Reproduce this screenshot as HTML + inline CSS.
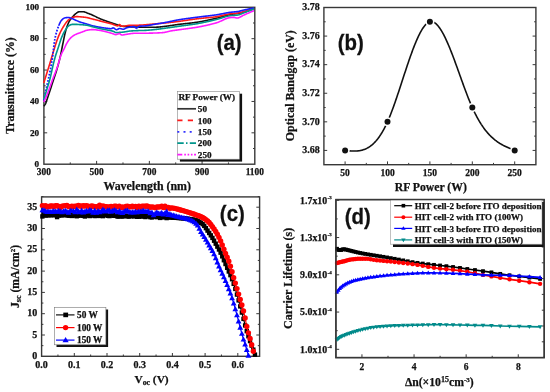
<!DOCTYPE html>
<html><head><meta charset="utf-8"><style>
html,body{margin:0;padding:0;background:#fff;overflow:hidden;}
svg{display:block;filter:blur(0.3px);}
text{fill:#111;stroke:#111;stroke-width:0.25px;}
</style></head><body>
<svg width="550" height="392" viewBox="0 0 550 392">
<rect width="550" height="392" fill="#fff"/>
<g id="pa">
<rect x="43.9" y="7.3" width="210.9" height="156.9" fill="none" stroke="#383838" stroke-width="1.4"/>
<path d="M43.9,132.82h3.3 M43.9,101.44h3.3 M43.9,70.06h3.3 M43.9,38.68h3.3" stroke="#383838" stroke-width="1.0" fill="none"/>
<path d="M43.9,148.51h1.8 M43.9,117.13h1.8 M43.9,85.75h1.8 M43.9,54.37h1.8 M43.9,22.99h1.8" stroke="#383838" stroke-width="1.0" fill="none"/>
<path d="M254.8,132.82h-3.3 M254.8,101.44h-3.3 M254.8,70.06h-3.3 M254.8,38.68h-3.3" stroke="#383838" stroke-width="1.0" fill="none"/>
<path d="M254.8,148.51h-1.8 M254.8,117.13h-1.8 M254.8,85.75h-1.8 M254.8,54.37h-1.8 M254.8,22.99h-1.8" stroke="#383838" stroke-width="1.0" fill="none"/>
<path d="M96.62,164.2v-3.3 M149.35,164.2v-3.3 M202.08,164.2v-3.3" stroke="#383838" stroke-width="1.0" fill="none"/>
<path d="M70.26,164.2v-1.8 M122.99,164.2v-1.8 M175.71,164.2v-1.8 M228.44,164.2v-1.8" stroke="#383838" stroke-width="1.0" fill="none"/>
<text x="39.2" y="167" font-size="9.2" text-anchor="end" font-family='"Liberation Serif", serif' font-weight="bold" >0</text>
<text x="39.2" y="135.62" font-size="9.2" text-anchor="end" font-family='"Liberation Serif", serif' font-weight="bold" >20</text>
<text x="39.2" y="104.24" font-size="9.2" text-anchor="end" font-family='"Liberation Serif", serif' font-weight="bold" >40</text>
<text x="39.2" y="72.86" font-size="9.2" text-anchor="end" font-family='"Liberation Serif", serif' font-weight="bold" >60</text>
<text x="39.2" y="41.48" font-size="9.2" text-anchor="end" font-family='"Liberation Serif", serif' font-weight="bold" >80</text>
<text x="39.2" y="10.1" font-size="9.2" text-anchor="end" font-family='"Liberation Serif", serif' font-weight="bold" >100</text>
<text x="43.9" y="175.4" font-size="9.4" text-anchor="middle" font-family='"Liberation Serif", serif' font-weight="bold" >300</text>
<text x="96.62" y="175.4" font-size="9.4" text-anchor="middle" font-family='"Liberation Serif", serif' font-weight="bold" >500</text>
<text x="149.35" y="175.4" font-size="9.4" text-anchor="middle" font-family='"Liberation Serif", serif' font-weight="bold" >700</text>
<text x="202.08" y="175.4" font-size="9.4" text-anchor="middle" font-family='"Liberation Serif", serif' font-weight="bold" >900</text>
<text x="254.8" y="175.4" font-size="9.4" text-anchor="middle" font-family='"Liberation Serif", serif' font-weight="bold" >1100</text>
<text x="147.2" y="189.9" font-size="11.9" text-anchor="middle" font-family='"Liberation Serif", serif' font-weight="bold" >Wavelength (nm)</text>
<text x="0" y="0" font-size="11.9" text-anchor="middle" font-family='"Liberation Serif", serif' font-weight="bold" transform="translate(13.8,85.5) rotate(-90)">Transmittance (%)</text>
<polyline points="43.7,106 44.2,105.62 44.7,105.05 45.2,104.34 45.7,103.34 46.2,102.04 46.7,100.55 47.2,98.96 47.7,97.39 48.2,95.92 48.7,94.46 49.2,92.98 49.7,91.48 50.2,89.96 50.7,88.43 51.2,86.9 51.7,85.36 52.2,83.83 52.7,82.3 53.2,80.8 53.7,79.31 54.2,77.83 54.7,76.35 55.2,74.83 55.7,73.28 56.2,71.67 56.7,69.99 57.2,68.28 57.7,66.53 58.2,64.73 58.7,62.87 59.2,60.95 59.7,58.95 60.2,56.86 60.7,54.64 61.2,52.17 61.7,49.57 62.2,46.98 62.7,44.52 63.2,42.09 63.7,39.62 64.2,37.2 64.7,34.87 65.2,32.72 65.7,30.79 66.2,29.12 66.7,27.55 67.2,26.07 67.7,24.71 68.2,23.47 68.7,22.36 69.2,21.4 69.7,20.56 70.2,19.82 70.7,19.14 71.2,18.52 71.7,17.92 72.2,17.35 72.7,16.77 73.2,16.19 73.7,15.62 74.2,15.07 74.7,14.57 75.2,14.1 75.7,13.7 76.2,13.32 76.7,12.92 77.2,12.55 77.7,12.22 78.2,11.97 78.7,11.83 79.2,11.8 79.7,11.8 80.2,11.8 80.7,11.8 81.2,11.8 81.7,11.8 82.2,11.8 82.7,11.8 83.2,11.8 83.7,11.81 84.2,11.88 84.7,12.01 85.2,12.17 85.7,12.37 86.2,12.58 86.7,12.8 87.2,13.01 87.7,13.2 88.2,13.38 88.7,13.57 89.2,13.76 89.7,13.95 90.2,14.15 90.7,14.35 91.2,14.56 91.7,14.77 92.2,14.98 92.7,15.2 93.2,15.42 93.7,15.66 94.2,15.9 94.7,16.15 95.2,16.4 95.7,16.65 96.2,16.91 96.7,17.16 97.2,17.41 97.7,17.65 98.2,17.89 98.7,18.12 99.2,18.34 99.7,18.56 100.2,18.76 100.7,18.97 101.2,19.17 101.7,19.37 102.2,19.56 102.7,19.75 103.2,19.94 103.7,20.13 104.2,20.32 104.7,20.5 105.2,20.69 105.7,20.87 106.2,21.06 106.7,21.24 107.2,21.42 107.7,21.6 108.2,21.77 108.7,21.95 109.2,22.12 109.7,22.29 110.2,22.47 110.7,22.63 111.2,22.8 111.7,22.96 112.2,23.13 112.7,23.29 113.2,23.44 113.7,23.6 114.2,23.76 114.7,23.92 115.2,24.08 115.7,24.24 116.2,24.4 116.7,24.58 117.2,24.76 117.7,24.95 118.2,25.15 118.7,25.34 119.2,25.52 119.7,25.7 120.2,25.85 120.7,25.99 121.2,26.1 121.7,26.19 122.2,26.25 122.7,26.3 123.2,26.36 123.7,26.4 124.2,26.45 124.7,26.49 125.2,26.52 125.7,26.56 126.2,26.59 126.7,26.62 127.2,26.65 127.7,26.68 128.2,26.71 128.7,26.73 129.2,26.76 129.7,26.78 130.2,26.81 130.7,26.84 131.2,26.86 131.7,26.89 132.2,26.92 132.7,26.95 133.2,26.97 133.7,27 134.2,27.03 134.7,27.05 135.2,27.07 135.7,27.1 136.2,27.12 136.7,27.14 137.2,27.15 137.7,27.17 138.2,27.18 138.7,27.19 139.2,27.2 139.7,27.2 140.2,27.2 140.7,27.2 141.2,27.2 141.7,27.2 142.2,27.2 142.7,27.2 143.2,27.2 143.7,27.2 144.2,27.2 144.7,27.2 145.2,27.2 145.7,27.2 146.2,27.2 146.7,27.2 147.2,27.2 147.7,27.2 148.2,27.2 148.7,27.2 149.2,27.2 149.7,27.2 150.2,27.2 150.7,27.2 151.2,27.2 151.7,27.2 152.2,27.2 152.7,27.2 153.2,27.2 153.7,27.2 154.2,27.2 154.7,27.2 155.2,27.2 155.7,27.2 156.2,27.19 156.7,27.17 157.2,27.15 157.7,27.12 158.2,27.09 158.7,27.05 159.2,27.01 159.7,26.96 160.2,26.91 160.7,26.85 161.2,26.8 161.7,26.74 162.2,26.68 162.7,26.61 163.2,26.55 163.7,26.49 164.2,26.42 164.7,26.36 165.2,26.29 165.7,26.23 166.2,26.17 166.7,26.11 167.2,26.05 167.7,25.99 168.2,25.93 168.7,25.86 169.2,25.79 169.7,25.72 170.2,25.65 170.7,25.58 171.2,25.51 171.7,25.43 172.2,25.35 172.7,25.28 173.2,25.2 173.7,25.12 174.2,25.05 174.7,24.97 175.2,24.9 175.7,24.82 176.2,24.75 176.7,24.68 177.2,24.61 177.7,24.54 178.2,24.47 178.7,24.41 179.2,24.35 179.7,24.28 180.2,24.22 180.7,24.16 181.2,24.1 181.7,24.05 182.2,23.99 182.7,23.93 183.2,23.88 183.7,23.82 184.2,23.76 184.7,23.71 185.2,23.65 185.7,23.6 186.2,23.55 186.7,23.49 187.2,23.44 187.7,23.38 188.2,23.33 188.7,23.27 189.2,23.22 189.7,23.16 190.2,23.1 190.7,23.04 191.2,22.99 191.7,22.93 192.2,22.86 192.7,22.8 193.2,22.74 193.7,22.68 194.2,22.61 194.7,22.54 195.2,22.48 195.7,22.41 196.2,22.33 196.7,22.26 197.2,22.18 197.7,22.11 198.2,22.03 198.7,21.95 199.2,21.86 199.7,21.78 200.2,21.69 200.7,21.6 201.2,21.51 201.7,21.42 202.2,21.32 202.7,21.23 203.2,21.13 203.7,21.03 204.2,20.93 204.7,20.83 205.2,20.73 205.7,20.63 206.2,20.52 206.7,20.42 207.2,20.31 207.7,20.2 208.2,20.09 208.7,19.98 209.2,19.87 209.7,19.76 210.2,19.65 210.7,19.53 211.2,19.42 211.7,19.31 212.2,19.19 212.7,19.08 213.2,18.96 213.7,18.85 214.2,18.73 214.7,18.62 215.2,18.5 215.7,18.39 216.2,18.27 216.7,18.15 217.2,18.03 217.7,17.91 218.2,17.78 218.7,17.65 219.2,17.52 219.7,17.39 220.2,17.25 220.7,17.11 221.2,16.97 221.7,16.83 222.2,16.69 222.7,16.55 223.2,16.41 223.7,16.27 224.2,16.13 224.7,15.99 225.2,15.85 225.7,15.71 226.2,15.58 226.7,15.45 227.2,15.32 227.7,15.19 228.2,15.07 228.7,14.95 229.2,14.84 229.7,14.73 230.2,14.62 230.7,14.52 231.2,14.42 231.7,14.33 232.2,14.25 232.7,14.16 233.2,14.08 233.7,14 234.2,13.93 234.7,13.85 235.2,13.78 235.7,13.71 236.2,13.64 236.7,13.57 237.2,13.5 237.7,13.43 238.2,13.36 238.7,13.28 239.2,13.21 239.7,13.13 240.2,13.05 240.7,12.96 241.2,12.88 241.7,12.79 242.2,12.69 242.7,12.59 243.2,12.48 243.7,12.37 244.2,12.25 244.7,12.12 245.2,11.99 245.7,11.84 246.2,11.69 246.7,11.53 247.2,11.36 247.7,11.18 248.2,11 248.7,10.81 249.2,10.61 249.7,10.41 250.2,10.2 250.7,9.99 251.2,9.77 251.7,9.55 252.2,9.33 252.7,9.1 253.2,8.87 253.7,8.64 254,8.5" fill="none" stroke="#111111" stroke-width="1.6" stroke-linejoin="round"/>
<polyline points="43.7,83 44.2,81.45 44.7,79.89 45.2,78.32 45.7,76.74 46.2,75.16 46.7,73.57 47.2,71.97 47.7,70.37 48.2,68.77 48.7,67.15 49.2,65.54 49.7,63.91 50.2,62.29 50.7,60.65 51.2,59.01 51.7,57.34 52.2,55.65 52.7,53.96 53.2,52.28 53.7,50.62 54.2,49 54.7,47.4 55.2,45.79 55.7,44.2 56.2,42.65 56.7,41.15 57.2,39.74 57.7,38.41 58.2,37.14 58.7,35.91 59.2,34.74 59.7,33.61 60.2,32.53 60.7,31.5 61.2,30.52 61.7,29.58 62.2,28.67 62.7,27.81 63.2,26.99 63.7,26.2 64.2,25.43 64.7,24.66 65.2,23.9 65.7,23.16 66.2,22.46 66.7,21.81 67.2,21.21 67.7,20.67 68.2,20.21 68.7,19.79 69.2,19.39 69.7,19.02 70.2,18.66 70.7,18.34 71.2,18.06 71.7,17.81 72.2,17.6 72.7,17.44 73.2,17.28 73.7,17.13 74.2,16.99 74.7,16.87 75.2,16.76 75.7,16.68 76.2,16.63 76.7,16.6 77.2,16.61 77.7,16.62 78.2,16.65 78.7,16.69 79.2,16.73 79.7,16.78 80.2,16.82 80.7,16.86 81.2,16.9 81.7,16.94 82.2,16.99 82.7,17.04 83.2,17.09 83.7,17.14 84.2,17.2 84.7,17.26 85.2,17.33 85.7,17.4 86.2,17.47 86.7,17.55 87.2,17.64 87.7,17.75 88.2,17.87 88.7,17.99 89.2,18.13 89.7,18.26 90.2,18.41 90.7,18.55 91.2,18.69 91.7,18.83 92.2,18.97 92.7,19.1 93.2,19.23 93.7,19.35 94.2,19.47 94.7,19.6 95.2,19.72 95.7,19.85 96.2,19.97 96.7,20.09 97.2,20.22 97.7,20.34 98.2,20.47 98.7,20.6 99.2,20.73 99.7,20.86 100.2,20.99 100.7,21.12 101.2,21.25 101.7,21.39 102.2,21.52 102.7,21.66 103.2,21.79 103.7,21.93 104.2,22.06 104.7,22.19 105.2,22.32 105.7,22.45 106.2,22.58 106.7,22.7 107.2,22.81 107.7,22.93 108.2,23.04 108.7,23.16 109.2,23.27 109.7,23.39 110.2,23.52 110.7,23.64 111.2,23.78 111.7,23.92 112.2,24.07 112.7,24.24 113.2,24.43 113.7,24.64 114.2,24.86 114.7,25.07 115.2,25.27 115.7,25.44 116.2,25.59 116.7,25.73 117.2,25.85 117.7,25.9 118.2,25.64 118.7,25.08 119.2,24.6 119.7,24.54 120.2,24.93 120.7,25.52 121.2,26.06 121.7,26.3 122.2,26.29 122.7,26.25 123.2,26.2 123.7,26.14 124.2,26.06 124.7,25.99 125.2,25.92 125.7,25.86 126.2,25.79 126.7,25.7 127.2,25.61 127.7,25.52 128.2,25.43 128.7,25.35 129.2,25.28 129.7,25.23 130.2,25.2 130.7,25.2 131.2,25.2 131.7,25.2 132.2,25.2 132.7,25.2 133.2,25.2 133.7,25.2 134.2,25.2 134.7,25.2 135.2,25.2 135.7,25.2 136.2,25.2 136.7,25.2 137.2,25.2 137.7,25.2 138.2,25.2 138.7,25.19 139.2,25.17 139.7,25.15 140.2,25.13 140.7,25.1 141.2,25.07 141.7,25.04 142.2,25 142.7,24.97 143.2,24.93 143.7,24.89 144.2,24.86 144.7,24.82 145.2,24.79 145.7,24.75 146.2,24.71 146.7,24.67 147.2,24.63 147.7,24.59 148.2,24.55 148.7,24.5 149.2,24.46 149.7,24.41 150.2,24.36 150.7,24.31 151.2,24.26 151.7,24.22 152.2,24.17 152.7,24.12 153.2,24.07 153.7,24.02 154.2,23.97 154.7,23.93 155.2,23.88 155.7,23.84 156.2,23.79 156.7,23.75 157.2,23.7 157.7,23.66 158.2,23.61 158.7,23.57 159.2,23.52 159.7,23.48 160.2,23.43 160.7,23.39 161.2,23.34 161.7,23.29 162.2,23.25 162.7,23.2 163.2,23.15 163.7,23.11 164.2,23.06 164.7,23.01 165.2,22.96 165.7,22.91 166.2,22.86 166.7,22.81 167.2,22.76 167.7,22.71 168.2,22.65 168.7,22.6 169.2,22.54 169.7,22.49 170.2,22.43 170.7,22.38 171.2,22.32 171.7,22.26 172.2,22.21 172.7,22.15 173.2,22.09 173.7,22.03 174.2,21.97 174.7,21.91 175.2,21.85 175.7,21.79 176.2,21.73 176.7,21.66 177.2,21.6 177.7,21.54 178.2,21.47 178.7,21.41 179.2,21.34 179.7,21.28 180.2,21.21 180.7,21.14 181.2,21.07 181.7,21 182.2,20.93 182.7,20.86 183.2,20.79 183.7,20.71 184.2,20.64 184.7,20.57 185.2,20.49 185.7,20.42 186.2,20.34 186.7,20.27 187.2,20.19 187.7,20.12 188.2,20.04 188.7,19.97 189.2,19.89 189.7,19.82 190.2,19.75 190.7,19.67 191.2,19.6 191.7,19.53 192.2,19.46 192.7,19.38 193.2,19.31 193.7,19.25 194.2,19.18 194.7,19.11 195.2,19.04 195.7,18.98 196.2,18.91 196.7,18.85 197.2,18.79 197.7,18.73 198.2,18.67 198.7,18.61 199.2,18.56 199.7,18.5 200.2,18.45 200.7,18.4 201.2,18.34 201.7,18.29 202.2,18.24 202.7,18.2 203.2,18.15 203.7,18.1 204.2,18.05 204.7,18 205.2,17.96 205.7,17.91 206.2,17.86 206.7,17.81 207.2,17.77 207.7,17.72 208.2,17.67 208.7,17.62 209.2,17.57 209.7,17.52 210.2,17.47 210.7,17.42 211.2,17.36 211.7,17.31 212.2,17.25 212.7,17.19 213.2,17.14 213.7,17.07 214.2,17.01 214.7,16.95 215.2,16.88 215.7,16.81 216.2,16.74 216.7,16.67 217.2,16.59 217.7,16.5 218.2,16.41 218.7,16.31 219.2,16.21 219.7,16.1 220.2,15.99 220.7,15.87 221.2,15.75 221.7,15.63 222.2,15.51 222.7,15.39 223.2,15.26 223.7,15.14 224.2,15.01 224.7,14.89 225.2,14.77 225.7,14.66 226.2,14.54 226.7,14.43 227.2,14.32 227.7,14.22 228.2,14.13 228.7,14.04 229.2,13.96 229.7,13.88 230.2,13.81 230.7,13.75 231.2,13.7 231.7,13.65 232.2,13.61 232.7,13.57 233.2,13.53 233.7,13.49 234.2,13.46 234.7,13.42 235.2,13.38 235.7,13.34 236.2,13.3 236.7,13.25 237.2,13.19 237.7,13.13 238.2,13.06 238.7,12.97 239.2,12.86 239.7,12.74 240.2,12.62 240.7,12.48 241.2,12.33 241.7,12.18 242.2,12.03 242.7,11.88 243.2,11.73 243.7,11.58 244.2,11.44 244.7,11.3 245.2,11.16 245.7,11.02 246.2,10.88 246.7,10.73 247.2,10.59 247.7,10.44 248.2,10.29 248.7,10.15 249.2,10 249.7,9.85 250.2,9.69 250.7,9.54 251.2,9.39 251.7,9.23 252.2,9.07 252.7,8.92 253.2,8.76 253.7,8.6 254,8.5" fill="none" stroke="#ff1a1a" stroke-width="1.6" stroke-linejoin="round"/>
<polyline points="43.7,100.5 43.8,100.05 43.9,99.61 44,99.16 44.1,98.71 44.2,98.26 44.3,97.81 44.4,97.36 44.5,96.91 44.6,96.45 44.7,96 44.8,95.55 44.9,95.09 45,94.63 45.1,94.18 45.2,93.72 45.3,93.26 45.4,92.8 45.5,92.33 45.6,91.87 45.7,91.41 45.8,90.94 45.9,90.47 46,90 46.1,89.53 46.2,89.06 46.3,88.6 46.4,88.13 46.5,87.67 46.6,87.21 46.7,86.75 46.8,86.3 46.9,85.84 47,85.38 47.1,84.93 47.2,84.48 47.3,84.02 47.4,83.57 47.5,83.12 47.6,82.67 47.7,82.21 47.8,81.76 47.9,81.31 48,80.86 48.1,80.4 48.2,79.95 48.3,79.49 48.4,79.03 48.5,78.58 48.6,78.12 48.7,77.66 48.8,77.19 48.9,76.73 49,76.26 49.1,75.79 49.2,75.32 49.3,74.85 49.4,74.37 49.5,73.9 49.6,73.41 49.7,72.93 49.8,72.44 49.9,71.95 50,71.46 50.1,70.96 50.2,70.46 50.3,69.95 50.4,69.44 50.5,68.93 50.6,68.41 50.7,67.89 50.8,67.36 50.9,66.82 51,66.29 51.1,65.74 51.2,65.2 51.3,64.64 51.4,64.08 51.5,63.52 51.6,62.95 51.7,62.37 51.8,61.79 51.9,61.2 52,60.6 52.1,60 52.2,59.38 52.3,58.72 52.4,58.03 52.5,57.31 52.6,56.57 52.7,55.81 52.8,55.03 52.9,54.23 53,53.41 53.1,52.58 53.2,51.75 53.3,50.91 53.4,50.07 53.5,49.23 53.6,48.39 53.7,47.55 53.8,46.73 53.9,45.91 54,45.11 54.1,44.33 54.2,43.57 54.3,42.82 54.4,42.11 54.5,41.42 54.6,40.76 54.7,40.14 54.8,39.55 54.9,39.01 55,38.5 55.1,38.02 55.2,37.55 55.3,37.09 55.4,36.64 55.5,36.2 55.6,35.77 55.7,35.35 55.8,34.93 55.9,34.52 56,34.12 56.1,33.73 56.2,33.35 56.3,32.98 56.4,32.61 56.5,32.25 56.6,31.89 56.7,31.55 56.8,31.21 56.9,30.87 57,30.55 57.1,30.23 57.2,29.91 57.3,29.6 57.4,29.3 57.5,29 57.6,28.71 57.7,28.42 57.8,28.14 57.9,27.86 58,27.59 58.1,27.32 58.2,27.06 58.3,26.8 58.4,26.54 58.5,26.29" fill="none" stroke="#1a1aff" stroke-width="1.8" stroke-dasharray="1.7 1.5"/>
<polyline points="58.7,25.78 59.2,24.54 59.7,23.38 60.2,22.33 60.7,21.41 61.2,20.66 61.7,20.09 62.2,19.58 62.7,19.11 63.2,18.7 63.7,18.36 64.2,18.1 64.7,17.92 65.2,17.82 65.7,17.73 66.2,17.65 66.7,17.58 67.2,17.54 67.7,17.51 68.2,17.5 68.7,17.54 69.2,17.63 69.7,17.76 70.2,17.91 70.7,18.07 71.2,18.24 71.7,18.4 72.2,18.59 72.7,18.81 73.2,19.05 73.7,19.29 74.2,19.52 74.7,19.74 75.2,19.96 75.7,20.19 76.2,20.41 76.7,20.64 77.2,20.86 77.7,21.08 78.2,21.3 78.7,21.5 79.2,21.7 79.7,21.89 80.2,22.07 80.7,22.24 81.2,22.4 81.7,22.55 82.2,22.7 82.7,22.85 83.2,22.99 83.7,23.13 84.2,23.27 84.7,23.41 85.2,23.55 85.7,23.69 86.2,23.84 86.7,23.99 87.2,24.15 87.7,24.3 88.2,24.46 88.7,24.62 89.2,24.78 89.7,24.94 90.2,25.1 90.7,25.25 91.2,25.4 91.7,25.54 92.2,25.67 92.7,25.8 93.2,25.92 93.7,26.03 94.2,26.15 94.7,26.26 95.2,26.36 95.7,26.46 96.2,26.56 96.7,26.66 97.2,26.75 97.7,26.85 98.2,26.94 98.7,27.03 99.2,27.12 99.7,27.21 100.2,27.29 100.7,27.38 101.2,27.46 101.7,27.54 102.2,27.63 102.7,27.7 103.2,27.78 103.7,27.85 104.2,27.93 104.7,28 105.2,28.06 105.7,28.13 106.2,28.19 106.7,28.26 107.2,28.33 107.7,28.4 108.2,28.47 108.7,28.53 109.2,28.59 109.7,28.63 110.2,28.67 110.7,28.69 111.2,28.7 111.7,28.56 112.2,28.27 112.7,27.99 113.2,27.9 113.7,28.04 114.2,28.32 114.7,28.68 115.2,29.07 115.7,29.4 116.2,29.63 116.7,29.7 117.2,29.57 117.7,29.31 118.2,29.01 118.7,28.72 119.2,28.54 119.7,28.51 120.2,28.57 120.7,28.67 121.2,28.81 121.7,28.95 122.2,29.07 122.7,29.17 123.2,29.2 123.7,29.14 124.2,28.96 124.7,28.72 125.2,28.44 125.7,28.16 126.2,27.91 126.7,27.73 127.2,27.61 127.7,27.49 128.2,27.38 128.7,27.27 129.2,27.17 129.7,27.07 130.2,26.98 130.7,26.9 131.2,26.82 131.7,26.75 132.2,26.7 132.7,26.66 133.2,26.62 133.7,26.6 134.2,26.61 134.7,26.87 135.2,27.35 135.7,27.83 136.2,28.09 136.7,28.01 137.2,27.71 137.7,27.29 138.2,26.85 138.7,26.49 139.2,26.3 139.7,26.24 140.2,26.19 140.7,26.15 141.2,26.12 141.7,26.09 142.2,26.06 142.7,26.04 143.2,26.02 143.7,25.99 144.2,25.96 144.7,25.93 145.2,25.88 145.7,25.83 146.2,25.77 146.7,25.7 147.2,25.64 147.7,25.56 148.2,25.48 148.7,25.4 149.2,25.32 149.7,25.23 150.2,25.14 150.7,25.05 151.2,24.95 151.7,24.86 152.2,24.76 152.7,24.67 153.2,24.58 153.7,24.48 154.2,24.39 154.7,24.3 155.2,24.22 155.7,24.13 156.2,24.05 156.7,23.96 157.2,23.88 157.7,23.8 158.2,23.71 158.7,23.63 159.2,23.54 159.7,23.46 160.2,23.37 160.7,23.29 161.2,23.2 161.7,23.12 162.2,23.03 162.7,22.94 163.2,22.85 163.7,22.77 164.2,22.68 164.7,22.59 165.2,22.5 165.7,22.4 166.2,22.31 166.7,22.22 167.2,22.12 167.7,22.03 168.2,21.93 168.7,21.82 169.2,21.72 169.7,21.61 170.2,21.5 170.7,21.4 171.2,21.29 171.7,21.18 172.2,21.07 172.7,20.96 173.2,20.85 173.7,20.74 174.2,20.64 174.7,20.53 175.2,20.43 175.7,20.33 176.2,20.23 176.7,20.13 177.2,20.04 177.7,19.95 178.2,19.87 178.7,19.78 179.2,19.7 179.7,19.62 180.2,19.54 180.7,19.46 181.2,19.38 181.7,19.3 182.2,19.23 182.7,19.15 183.2,19.08 183.7,19 184.2,18.93 184.7,18.86 185.2,18.79 185.7,18.72 186.2,18.65 186.7,18.58 187.2,18.51 187.7,18.44 188.2,18.37 188.7,18.3 189.2,18.24 189.7,18.17 190.2,18.1 190.7,18.04 191.2,17.97 191.7,17.91 192.2,17.84 192.7,17.78 193.2,17.71 193.7,17.64 194.2,17.58 194.7,17.51 195.2,17.45 195.7,17.38 196.2,17.32 196.7,17.25 197.2,17.19 197.7,17.12 198.2,17.06 198.7,16.99 199.2,16.93 199.7,16.87 200.2,16.81 200.7,16.75 201.2,16.69 201.7,16.63 202.2,16.57 202.7,16.51 203.2,16.45 203.7,16.4 204.2,16.34 204.7,16.28 205.2,16.22 205.7,16.17 206.2,16.11 206.7,16.05 207.2,15.99 207.7,15.94 208.2,15.88 208.7,15.82 209.2,15.76 209.7,15.7 210.2,15.64 210.7,15.58 211.2,15.52 211.7,15.45 212.2,15.39 212.7,15.33 213.2,15.26 213.7,15.19 214.2,15.13 214.7,15.06 215.2,14.99 215.7,14.92 216.2,14.84 216.7,14.77 217.2,14.69 217.7,14.61 218.2,14.53 218.7,14.44 219.2,14.35 219.7,14.25 220.2,14.16 220.7,14.06 221.2,13.96 221.7,13.86 222.2,13.76 222.7,13.66 223.2,13.56 223.7,13.46 224.2,13.36 224.7,13.26 225.2,13.16 225.7,13.06 226.2,12.97 226.7,12.87 227.2,12.78 227.7,12.7 228.2,12.61 228.7,12.53 229.2,12.45 229.7,12.38 230.2,12.31 230.7,12.25 231.2,12.19 231.7,12.14 232.2,12.09 232.7,12.04 233.2,12 233.7,11.95 234.2,11.91 234.7,11.87 235.2,11.82 235.7,11.77 236.2,11.72 236.7,11.66 237.2,11.6 237.7,11.53 238.2,11.45 238.7,11.36 239.2,11.25 239.7,11.13 240.2,11.01 240.7,10.87 241.2,10.74 241.7,10.6 242.2,10.46 242.7,10.32 243.2,10.19 243.7,10.07 244.2,9.96 244.7,9.85 245.2,9.74 245.7,9.63 246.2,9.52 246.7,9.41 247.2,9.31 247.7,9.2 248.2,9.1 248.7,9 249.2,8.9 249.7,8.8 250.2,8.7 250.7,8.6 251.2,8.51 251.7,8.41 252.2,8.32 252.7,8.23 253.2,8.14 253.7,8.05 254,8" fill="none" stroke="#1a1aff" stroke-width="1.6" stroke-linejoin="round"/>
<polyline points="43.7,99.5 44.2,97.96 44.7,96.41 45.2,94.83 45.7,93.24 46.2,91.62 46.7,89.99 47.2,88.34 47.7,86.71 48.2,85.07 48.7,83.4 49.2,81.68 49.7,79.89 50.2,78 50.7,75.93 51.2,73.68 51.7,71.34 52.2,68.99 52.7,66.71 53.2,64.59 53.7,62.57 54.2,60.61 54.7,58.73 55.2,56.94 55.7,55.26 56.2,53.67 56.7,52.14 57.2,50.65 57.7,49.17 58.2,47.7 58.7,46.19 59.2,44.63 59.7,43.05 60.2,41.48 60.7,39.96 61.2,38.54 61.7,37.24 62.2,36.07 62.7,34.97 63.2,33.93 63.7,32.95 64.2,32.02 64.7,31.15 65.2,30.34 65.7,29.54 66.2,28.74 66.7,27.98 67.2,27.29 67.7,26.7 68.2,26.24 68.7,25.91 69.2,25.6 69.7,25.3 70.2,25.04 70.7,24.81 71.2,24.62 71.7,24.49 72.2,24.41 72.7,24.4 73.2,24.4 73.7,24.4 74.2,24.4 74.7,24.4 75.2,24.4 75.7,24.4 76.2,24.4 76.7,24.4 77.2,24.41 77.7,24.43 78.2,24.46 78.7,24.49 79.2,24.54 79.7,24.58 80.2,24.61 80.7,24.65 81.2,24.69 81.7,24.73 82.2,24.77 82.7,24.81 83.2,24.85 83.7,24.89 84.2,24.94 84.7,24.99 85.2,25.05 85.7,25.11 86.2,25.17 86.7,25.24 87.2,25.33 87.7,25.43 88.2,25.55 88.7,25.68 89.2,25.81 89.7,25.95 90.2,26.1 90.7,26.24 91.2,26.39 91.7,26.53 92.2,26.67 92.7,26.8 93.2,26.93 93.7,27.05 94.2,27.18 94.7,27.31 95.2,27.44 95.7,27.57 96.2,27.7 96.7,27.83 97.2,27.95 97.7,28.07 98.2,28.19 98.7,28.31 99.2,28.42 99.7,28.53 100.2,28.64 100.7,28.75 101.2,28.85 101.7,28.95 102.2,29.05 102.7,29.15 103.2,29.25 103.7,29.35 104.2,29.45 104.7,29.54 105.2,29.64 105.7,29.74 106.2,29.83 106.7,29.92 107.2,30.01 107.7,30.09 108.2,30.18 108.7,30.26 109.2,30.35 109.7,30.44 110.2,30.53 110.7,30.63 111.2,30.74 111.7,30.85 112.2,30.97 112.7,31.12 113.2,31.33 113.7,31.56 114.2,31.81 114.7,32.06 115.2,32.28 115.7,32.46 116.2,32.57 116.7,32.6 117.2,32.59 117.7,32.55 118.2,32.51 118.7,32.47 119.2,32.42 119.7,32.39 120.2,32.35 120.7,32.31 121.2,32.27 121.7,32.24 122.2,32.19 122.7,32.15 123.2,32.1 123.7,32.04 124.2,31.98 124.7,31.9 125.2,31.82 125.7,31.74 126.2,31.65 126.7,31.56 127.2,31.47 127.7,31.38 128.2,31.3 128.7,31.22 129.2,31.14 129.7,31.08 130.2,31.03 130.7,30.98 131.2,30.95 131.7,30.91 132.2,30.87 132.7,30.84 133.2,30.81 133.7,30.78 134.2,30.75 134.7,30.73 135.2,30.7 135.7,30.68 136.2,30.66 136.7,30.64 137.2,30.62 137.7,30.6 138.2,30.58 138.7,30.57 139.2,30.55 139.7,30.54 140.2,30.53 140.7,30.52 141.2,30.51 141.7,30.5 142.2,30.48 142.7,30.47 143.2,30.46 143.7,30.45 144.2,30.43 144.7,30.41 145.2,30.39 145.7,30.37 146.2,30.34 146.7,30.31 147.2,30.28 147.7,30.24 148.2,30.2 148.7,30.16 149.2,30.12 149.7,30.07 150.2,30.03 150.7,29.98 151.2,29.93 151.7,29.88 152.2,29.83 152.7,29.77 153.2,29.72 153.7,29.67 154.2,29.62 154.7,29.56 155.2,29.51 155.7,29.46 156.2,29.4 156.7,29.35 157.2,29.29 157.7,29.23 158.2,29.17 158.7,29.1 159.2,29.04 159.7,28.98 160.2,28.91 160.7,28.84 161.2,28.78 161.7,28.71 162.2,28.64 162.7,28.57 163.2,28.5 163.7,28.43 164.2,28.36 164.7,28.29 165.2,28.22 165.7,28.15 166.2,28.08 166.7,28.01 167.2,27.95 167.7,27.88 168.2,27.81 168.7,27.74 169.2,27.67 169.7,27.6 170.2,27.52 170.7,27.45 171.2,27.38 171.7,27.31 172.2,27.24 172.7,27.16 173.2,27.09 173.7,27.02 174.2,26.95 174.7,26.87 175.2,26.8 175.7,26.73 176.2,26.66 176.7,26.59 177.2,26.51 177.7,26.44 178.2,26.37 178.7,26.3 179.2,26.23 179.7,26.16 180.2,26.09 180.7,26.03 181.2,25.96 181.7,25.89 182.2,25.83 182.7,25.76 183.2,25.69 183.7,25.63 184.2,25.56 184.7,25.5 185.2,25.43 185.7,25.36 186.2,25.3 186.7,25.23 187.2,25.17 187.7,25.1 188.2,25.03 188.7,24.96 189.2,24.9 189.7,24.83 190.2,24.76 190.7,24.69 191.2,24.62 191.7,24.54 192.2,24.47 192.7,24.4 193.2,24.32 193.7,24.25 194.2,24.17 194.7,24.09 195.2,24.01 195.7,23.93 196.2,23.85 196.7,23.77 197.2,23.68 197.7,23.6 198.2,23.51 198.7,23.42 199.2,23.33 199.7,23.23 200.2,23.14 200.7,23.04 201.2,22.95 201.7,22.85 202.2,22.75 202.7,22.65 203.2,22.55 203.7,22.44 204.2,22.34 204.7,22.23 205.2,22.13 205.7,22.02 206.2,21.91 206.7,21.8 207.2,21.69 207.7,21.58 208.2,21.46 208.7,21.35 209.2,21.24 209.7,21.12 210.2,21.01 210.7,20.89 211.2,20.77 211.7,20.65 212.2,20.54 212.7,20.42 213.2,20.3 213.7,20.18 214.2,20.06 214.7,19.94 215.2,19.82 215.7,19.69 216.2,19.57 216.7,19.45 217.2,19.32 217.7,19.19 218.2,19.05 218.7,18.9 219.2,18.75 219.7,18.6 220.2,18.44 220.7,18.28 221.2,18.12 221.7,17.96 222.2,17.79 222.7,17.63 223.2,17.47 223.7,17.31 224.2,17.15 224.7,17 225.2,16.85 225.7,16.7 226.2,16.56 226.7,16.43 227.2,16.3 227.7,16.18 228.2,16.07 228.7,15.97 229.2,15.87 229.7,15.79 230.2,15.71 230.7,15.65 231.2,15.59 231.7,15.55 232.2,15.5 232.7,15.47 233.2,15.43 233.7,15.4 234.2,15.36 234.7,15.33 235.2,15.29 235.7,15.25 236.2,15.21 236.7,15.15 237.2,15.1 237.7,15.03 238.2,14.95 238.7,14.83 239.2,14.69 239.7,14.52 240.2,14.33 240.7,14.13 241.2,13.91 241.7,13.69 242.2,13.46 242.7,13.24 243.2,13.02 243.7,12.82 244.2,12.63 244.7,12.44 245.2,12.25 245.7,12.07 246.2,11.88 246.7,11.69 247.2,11.51 247.7,11.32 248.2,11.14 248.7,10.95 249.2,10.77 249.7,10.58 250.2,10.4 250.7,10.21 251.2,10.03 251.7,9.84 252.2,9.66 252.7,9.48 253.2,9.29 253.7,9.11 254,9" fill="none" stroke="#00968c" stroke-width="1.6" stroke-linejoin="round"/>
<polyline points="43.7,102 44.2,101.12 44.7,100.2 45.2,99.19 45.7,98.09 46.2,96.93 46.7,95.72 47.2,94.46 47.7,93.15 48.2,91.81 48.7,90.44 49.2,89.05 49.7,87.65 50.2,86.23 50.7,84.82 51.2,83.41 51.7,82.01 52.2,80.62 52.7,79.27 53.2,77.94 53.7,76.65 54.2,75.39 54.7,74.12 55.2,72.85 55.7,71.57 56.2,70.24 56.7,68.87 57.2,67.45 57.7,65.94 58.2,64.32 58.7,62.44 59.2,60.67 59.7,59.03 60.2,57.45 60.7,55.98 61.2,54.65 61.7,53.48 62.2,52.43 62.7,51.46 63.2,50.53 63.7,49.59 64.2,48.6 64.7,47.55 65.2,46.49 65.7,45.43 66.2,44.41 66.7,43.44 67.2,42.56 67.7,41.77 68.2,41 68.7,40.28 69.2,39.6 69.7,38.97 70.2,38.41 70.7,37.91 71.2,37.44 71.7,37 72.2,36.59 72.7,36.2 73.2,35.84 73.7,35.5 74.2,35.19 74.7,34.91 75.2,34.65 75.7,34.41 76.2,34.2 76.7,33.99 77.2,33.8 77.7,33.62 78.2,33.45 78.7,33.27 79.2,33.09 79.7,32.91 80.2,32.72 80.7,32.53 81.2,32.35 81.7,32.16 82.2,31.97 82.7,31.79 83.2,31.6 83.7,31.4 84.2,31.19 84.7,30.97 85.2,30.77 85.7,30.59 86.2,30.44 86.7,30.34 87.2,30.24 87.7,30.15 88.2,30.06 88.7,29.97 89.2,29.89 89.7,29.82 90.2,29.76 90.7,29.7 91.2,29.66 91.7,29.63 92.2,29.61 92.7,29.6 93.2,29.61 93.7,29.63 94.2,29.66 94.7,29.7 95.2,29.75 95.7,29.81 96.2,29.88 96.7,29.95 97.2,30.02 97.7,30.09 98.2,30.17 98.7,30.24 99.2,30.31 99.7,30.39 100.2,30.47 100.7,30.56 101.2,30.65 101.7,30.75 102.2,30.85 102.7,30.96 103.2,31.07 103.7,31.18 104.2,31.3 104.7,31.41 105.2,31.53 105.7,31.65 106.2,31.77 106.7,31.9 107.2,32.03 107.7,32.16 108.2,32.3 108.7,32.44 109.2,32.59 109.7,32.73 110.2,32.88 110.7,33.03 111.2,33.18 111.7,33.32 112.2,33.47 112.7,33.63 113.2,33.82 113.7,34.02 114.2,34.22 114.7,34.39 115.2,34.52 115.7,34.59 116.2,34.58 116.7,34.47 117.2,34.3 117.7,34.1 118.2,33.9 118.7,33.73 119.2,33.62 119.7,33.63 120.2,33.94 120.7,34.4 121.2,34.82 121.7,35 122.2,34.99 122.7,34.95 123.2,34.9 123.7,34.83 124.2,34.75 124.7,34.66 125.2,34.57 125.7,34.48 126.2,34.39 126.7,34.31 127.2,34.24 127.7,34.16 128.2,34.08 128.7,33.99 129.2,33.9 129.7,33.81 130.2,33.72 130.7,33.63 131.2,33.55 131.7,33.48 132.2,33.42 132.7,33.37 133.2,33.33 133.7,33.31 134.2,33.3 134.7,33.3 135.2,33.3 135.7,33.3 136.2,33.3 136.7,33.3 137.2,33.3 137.7,33.3 138.2,33.3 138.7,33.3 139.2,33.3 139.7,33.3 140.2,33.3 140.7,33.3 141.2,33.3 141.7,33.29 142.2,33.29 142.7,33.29 143.2,33.28 143.7,33.28 144.2,33.27 144.7,33.26 145.2,33.25 145.7,33.25 146.2,33.24 146.7,33.23 147.2,33.22 147.7,33.21 148.2,33.19 148.7,33.18 149.2,33.17 149.7,33.16 150.2,33.15 150.7,33.13 151.2,33.12 151.7,33.11 152.2,33.09 152.7,33.08 153.2,33.06 153.7,33.05 154.2,33.03 154.7,33.02 155.2,33 155.7,32.99 156.2,32.97 156.7,32.95 157.2,32.94 157.7,32.92 158.2,32.9 158.7,32.87 159.2,32.85 159.7,32.82 160.2,32.8 160.7,32.77 161.2,32.73 161.7,32.7 162.2,32.66 162.7,32.62 163.2,32.58 163.7,32.52 164.2,32.45 164.7,32.36 165.2,32.26 165.7,32.15 166.2,32.03 166.7,31.91 167.2,31.78 167.7,31.66 168.2,31.53 168.7,31.41 169.2,31.29 169.7,31.18 170.2,31.07 170.7,30.98 171.2,30.9 171.7,30.82 172.2,30.74 172.7,30.66 173.2,30.58 173.7,30.51 174.2,30.44 174.7,30.37 175.2,30.3 175.7,30.23 176.2,30.16 176.7,30.09 177.2,30.01 177.7,29.94 178.2,29.87 178.7,29.8 179.2,29.73 179.7,29.66 180.2,29.59 180.7,29.52 181.2,29.45 181.7,29.39 182.2,29.32 182.7,29.25 183.2,29.19 183.7,29.12 184.2,29.06 184.7,28.99 185.2,28.93 185.7,28.86 186.2,28.8 186.7,28.73 187.2,28.66 187.7,28.6 188.2,28.53 188.7,28.47 189.2,28.4 189.7,28.33 190.2,28.26 190.7,28.19 191.2,28.12 191.7,28.05 192.2,27.98 192.7,27.9 193.2,27.83 193.7,27.75 194.2,27.68 194.7,27.6 195.2,27.52 195.7,27.44 196.2,27.35 196.7,27.27 197.2,27.18 197.7,27.09 198.2,27.01 198.7,26.92 199.2,26.82 199.7,26.73 200.2,26.64 200.7,26.54 201.2,26.45 201.7,26.35 202.2,26.25 202.7,26.15 203.2,26.05 203.7,25.94 204.2,25.84 204.7,25.73 205.2,25.63 205.7,25.52 206.2,25.41 206.7,25.3 207.2,25.18 207.7,25.07 208.2,24.95 208.7,24.84 209.2,24.72 209.7,24.6 210.2,24.48 210.7,24.35 211.2,24.23 211.7,24.1 212.2,23.97 212.7,23.84 213.2,23.71 213.7,23.58 214.2,23.44 214.7,23.31 215.2,23.17 215.7,23.03 216.2,22.89 216.7,22.74 217.2,22.58 217.7,22.41 218.2,22.22 218.7,22.03 219.2,21.82 219.7,21.6 220.2,21.37 220.7,21.14 221.2,20.91 221.7,20.67 222.2,20.43 222.7,20.19 223.2,19.95 223.7,19.72 224.2,19.49 224.7,19.26 225.2,19.04 225.7,18.84 226.2,18.64 226.7,18.45 227.2,18.28 227.7,18.12 228.2,17.98 228.7,17.86 229.2,17.75 229.7,17.67 230.2,17.61 230.7,17.56 231.2,17.52 231.7,17.48 232.2,17.45 232.7,17.42 233.2,17.41 233.7,17.4 234.2,17.44 234.7,17.53 235.2,17.65 235.7,17.78 236.2,17.9 236.7,17.98 237.2,18 237.7,17.96 238.2,17.86 238.7,17.72 239.2,17.53 239.7,17.31 240.2,17.06 240.7,16.79 241.2,16.51 241.7,16.22 242.2,15.94 242.7,15.65 243.2,15.38 243.7,15.14 244.2,14.91 244.7,14.69 245.2,14.47 245.7,14.26 246.2,14.04 246.7,13.82 247.2,13.6 247.7,13.38 248.2,13.16 248.7,12.94 249.2,12.72 249.7,12.5 250.2,12.28 250.7,12.06 251.2,11.84 251.7,11.62 252.2,11.4 252.7,11.18 253.2,10.95 253.7,10.73 254,10.6" fill="none" stroke="#ff1aff" stroke-width="1.6" stroke-linejoin="round"/>
<rect x="179.9" y="93.7" width="62.2" height="67.9" fill="#111"/>
<rect x="177.3" y="91.3" width="62.2" height="67.9" fill="#fff" stroke="#888" stroke-width="0.6"/>
<text x="178.4" y="100" font-size="9.2" text-anchor="start" font-family='"Liberation Serif", serif' font-weight="bold" >RF Power (W)</text>
<line x1="177.3" y1="108.8" x2="196" y2="108.8" stroke="#333333" stroke-width="1.7"/>
<text x="197.8" y="111.9" font-size="9.2" text-anchor="start" font-family='"Liberation Serif", serif' font-weight="bold" >50</text>
<line x1="177.3" y1="120.4" x2="196" y2="120.4" stroke="#ff1a1a" stroke-width="1.7" stroke-dasharray="5.2 5.3"/>
<text x="197.8" y="123.5" font-size="9.2" text-anchor="start" font-family='"Liberation Serif", serif' font-weight="bold" >100</text>
<line x1="177.3" y1="131.8" x2="192" y2="131.8" stroke="#3333ff" stroke-width="1.7" stroke-dasharray="2 4.2"/>
<text x="197.8" y="134.9" font-size="9.2" text-anchor="start" font-family='"Liberation Serif", serif' font-weight="bold" >150</text>
<line x1="177.3" y1="143.1" x2="196" y2="143.1" stroke="#00968c" stroke-width="1.7" stroke-dasharray="6.4 2.3 1.5 2.3"/>
<text x="197.8" y="146.2" font-size="9.2" text-anchor="start" font-family='"Liberation Serif", serif' font-weight="bold" >200</text>
<line x1="177.3" y1="154.7" x2="196" y2="154.7" stroke="#ff1aff" stroke-width="1.7" stroke-dasharray="5 2 1.6 1.7 1.6 1.7 1.6 1.6"/>
<text x="197.8" y="157.8" font-size="9.2" text-anchor="start" font-family='"Liberation Serif", serif' font-weight="bold" >250</text>
<text transform="translate(229.1,50.4) scale(0.95,1)" text-anchor="middle" font-size="21.5" font-family='"Liberation Sans", sans-serif' font-weight="bold">(a)</text>
</g>
<g id="pb">
<rect x="323.9" y="7.5" width="212" height="157.2" fill="none" stroke="#383838" stroke-width="1.4"/>
<path d="M323.9,150.41h3.3 M323.9,121.83h3.3 M323.9,93.25h3.3 M323.9,64.66h3.3 M323.9,36.08h3.3" stroke="#383838" stroke-width="1.0" fill="none"/>
<path d="M323.9,136.12h1.8 M323.9,107.54h1.8 M323.9,78.95h1.8 M323.9,50.37h1.8 M323.9,21.79h1.8" stroke="#383838" stroke-width="1.0" fill="none"/>
<path d="M535.9,150.41h-3.3 M535.9,121.83h-3.3 M535.9,93.25h-3.3 M535.9,64.66h-3.3 M535.9,36.08h-3.3" stroke="#383838" stroke-width="1.0" fill="none"/>
<path d="M535.9,136.12h-1.8 M535.9,107.54h-1.8 M535.9,78.95h-1.8 M535.9,50.37h-1.8 M535.9,21.79h-1.8" stroke="#383838" stroke-width="1.0" fill="none"/>
<path d="M345.1,164.7v-3.3 M387.5,164.7v-3.3 M429.9,164.7v-3.3 M472.3,164.7v-3.3 M514.7,164.7v-3.3" stroke="#383838" stroke-width="1.0" fill="none"/>
<path d="M366.3,164.7v-1.8 M408.7,164.7v-1.8 M451.1,164.7v-1.8 M493.5,164.7v-1.8" stroke="#383838" stroke-width="1.0" fill="none"/>
<text x="319.7" y="153.21" font-size="10" text-anchor="end" font-family='"Liberation Serif", serif' font-weight="bold" >3.68</text>
<text x="319.7" y="124.63" font-size="10" text-anchor="end" font-family='"Liberation Serif", serif' font-weight="bold" >3.70</text>
<text x="319.7" y="96.05" font-size="10" text-anchor="end" font-family='"Liberation Serif", serif' font-weight="bold" >3.72</text>
<text x="319.7" y="67.46" font-size="10" text-anchor="end" font-family='"Liberation Serif", serif' font-weight="bold" >3.74</text>
<text x="319.7" y="38.88" font-size="10" text-anchor="end" font-family='"Liberation Serif", serif' font-weight="bold" >3.76</text>
<text x="319.7" y="10.3" font-size="10" text-anchor="end" font-family='"Liberation Serif", serif' font-weight="bold" >3.78</text>
<text x="345.1" y="176.1" font-size="9.5" text-anchor="middle" font-family='"Liberation Serif", serif' font-weight="bold" >50</text>
<text x="387.5" y="176.1" font-size="9.5" text-anchor="middle" font-family='"Liberation Serif", serif' font-weight="bold" >100</text>
<text x="429.9" y="176.1" font-size="9.5" text-anchor="middle" font-family='"Liberation Serif", serif' font-weight="bold" >150</text>
<text x="472.3" y="176.1" font-size="9.5" text-anchor="middle" font-family='"Liberation Serif", serif' font-weight="bold" >200</text>
<text x="514.7" y="176.1" font-size="9.5" text-anchor="middle" font-family='"Liberation Serif", serif' font-weight="bold" >250</text>
<text x="430.8" y="191.4" font-size="11.7" text-anchor="middle" font-family='"Liberation Serif", serif' font-weight="bold" >RF Power (W)</text>
<text x="0" y="0" font-size="11.9" text-anchor="middle" font-family='"Liberation Serif", serif' font-weight="bold" transform="translate(293.8,85.7) rotate(-90)">Optical Bandgap (eV)</text>
<polyline points="345.1,150.41 345.67,150.47 346.23,150.53 346.8,150.59 347.37,150.65 347.94,150.71 348.5,150.76 349.07,150.81 349.64,150.86 350.21,150.9 350.77,150.94 351.34,150.98 351.91,151.01 352.47,151.03 353.04,151.05 353.61,151.06 354.18,151.07 354.74,151.06 355.31,151.05 355.88,151.03 356.44,151 357.01,150.96 357.58,150.92 358.15,150.86 358.71,150.79 359.28,150.7 359.85,150.61 360.42,150.5 360.98,150.39 361.55,150.25 362.12,150.11 362.68,149.95 363.25,149.77 363.82,149.58 364.39,149.38 364.95,149.15 365.52,148.92 366.09,148.66 366.65,148.39 367.22,148.09 367.79,147.78 368.36,147.45 368.92,147.11 369.49,146.74 370.06,146.35 370.63,145.94 371.19,145.5 371.76,145.05 372.33,144.57 372.89,144.08 373.46,143.55 374.03,143.01 374.6,142.44 375.16,141.84 375.73,141.22 376.3,140.57 376.86,139.9 377.43,139.2 378,138.48 378.57,137.72 379.13,136.94 379.7,136.13 380.27,135.29 380.84,134.42 381.4,133.52 381.97,132.59 382.54,131.63 383.1,130.64 383.67,129.61 384.24,128.56 384.81,127.47 385.37,126.34 385.94,125.19 386.51,124 387.07,122.77 387.64,121.51 388.21,120.21 388.78,118.88 389.34,117.52 389.91,116.13 390.48,114.7 391.05,113.25 391.61,111.77 392.18,110.26 392.75,108.73 393.31,107.18 393.88,105.61 394.45,104.01 395.02,102.4 395.58,100.77 396.15,99.12 396.72,97.46 397.28,95.78 397.85,94.09 398.42,92.39 398.99,90.68 399.55,88.97 400.12,87.24 400.69,85.51 401.26,83.78 401.82,82.04 402.39,80.31 402.96,78.57 403.52,76.83 404.09,75.1 404.66,73.37 405.23,71.64 405.79,69.93 406.36,68.22 406.93,66.52 407.49,64.83 408.06,63.15 408.63,61.49 409.2,59.84 409.76,58.21 410.33,56.59 410.9,55 411.47,53.42 412.03,51.87 412.6,50.34 413.17,48.83 413.73,47.35 414.3,45.9 414.87,44.48 415.44,43.08 416,41.72 416.57,40.39 417.14,39.09 417.7,37.83 418.27,36.6 418.84,35.41 419.41,34.27 419.97,33.16 420.54,32.09 421.11,31.07 421.68,30.09 422.24,29.16 422.81,28.28 423.38,27.44 423.94,26.66 424.51,25.93 425.08,25.25 425.65,24.62 426.21,24.05 426.78,23.54 427.35,23.08 427.91,22.69 428.48,22.35 429.05,22.08 429.62,21.87 430.18,21.73 430.75,21.65 431.32,21.63 431.89,21.68 432.45,21.79 433.02,21.96 433.59,22.19 434.15,22.48 434.72,22.82 435.29,23.22 435.86,23.67 436.42,24.17 436.99,24.73 437.56,25.33 438.12,25.99 438.69,26.69 439.26,27.44 439.83,28.23 440.39,29.07 440.96,29.95 441.53,30.87 442.1,31.83 442.66,32.83 443.23,33.87 443.8,34.94 444.36,36.05 444.93,37.2 445.5,38.37 446.07,39.58 446.63,40.81 447.2,42.08 447.77,43.37 448.33,44.69 448.9,46.04 449.47,47.4 450.04,48.79 450.6,50.21 451.17,51.64 451.74,53.09 452.31,54.56 452.87,56.04 453.44,57.54 454.01,59.05 454.57,60.58 455.14,62.11 455.71,63.66 456.28,65.22 456.84,66.78 457.41,68.35 457.98,69.92 458.54,71.5 459.11,73.08 459.68,74.66 460.25,76.24 460.81,77.82 461.38,79.4 461.95,80.97 462.52,82.54 463.08,84.11 463.65,85.66 464.22,87.21 464.78,88.74 465.35,90.27 465.92,91.78 466.49,93.28 467.05,94.76 467.62,96.22 468.19,97.67 468.75,99.1 469.32,100.51 469.89,101.9 470.46,103.27 471.02,104.61 471.59,105.93 472.16,107.22 472.73,108.48 473.29,109.72 473.86,110.92 474.43,112.11 474.99,113.26 475.56,114.39 476.13,115.49 476.7,116.57 477.26,117.62 477.83,118.65 478.4,119.65 478.96,120.63 479.53,121.59 480.1,122.52 480.67,123.43 481.23,124.32 481.8,125.18 482.37,126.02 482.94,126.85 483.5,127.65 484.07,128.43 484.64,129.19 485.2,129.93 485.77,130.65 486.34,131.35 486.91,132.04 487.47,132.7 488.04,133.35 488.61,133.98 489.17,134.59 489.74,135.19 490.31,135.77 490.88,136.33 491.44,136.88 492.01,137.41 492.58,137.92 493.15,138.43 493.71,138.92 494.28,139.39 494.85,139.85 495.41,140.3 495.98,140.73 496.55,141.16 497.12,141.57 497.68,141.97 498.25,142.35 498.82,142.73 499.38,143.1 499.95,143.46 500.52,143.8 501.09,144.14 501.65,144.47 502.22,144.79 502.79,145.1 503.36,145.4 503.92,145.7 504.49,145.99 505.06,146.27 505.62,146.55 506.19,146.82 506.76,147.08 507.33,147.34 507.89,147.6 508.46,147.85 509.03,148.09 509.59,148.34 510.16,148.57 510.73,148.81 511.3,149.04 511.86,149.27 512.43,149.5 513,149.73 513.57,149.96 514.13,150.18 514.7,150.41" fill="none" stroke="#111" stroke-width="1.6"/>
<circle cx="345.1" cy="150.41" r="4.6" fill="#fff"/>
<circle cx="345.1" cy="150.41" r="3" fill="#111"/>
<circle cx="387.5" cy="121.83" r="4.6" fill="#fff"/>
<circle cx="387.5" cy="121.83" r="3" fill="#111"/>
<circle cx="429.9" cy="21.79" r="4.6" fill="#fff"/>
<circle cx="429.9" cy="21.79" r="3" fill="#111"/>
<circle cx="472.3" cy="107.54" r="4.6" fill="#fff"/>
<circle cx="472.3" cy="107.54" r="3" fill="#111"/>
<circle cx="514.7" cy="150.41" r="4.6" fill="#fff"/>
<circle cx="514.7" cy="150.41" r="3" fill="#111"/>
<text transform="translate(350.8,50.4) scale(0.95,1)" text-anchor="middle" font-size="21.5" font-family='"Liberation Sans", sans-serif' font-weight="bold">(b)</text>
</g>
<g id="pc">
<rect x="41.6" y="196.9" width="218" height="159.4" fill="none" stroke="#383838" stroke-width="1.4"/>
<path d="M41.6,335h3.3 M41.6,313.7h3.3 M41.6,292.4h3.3 M41.6,271.1h3.3 M41.6,249.8h3.3 M41.6,228.5h3.3 M41.6,207.2h3.3" stroke="#383838" stroke-width="1.0" fill="none"/>
<path d="M41.6,345.65h1.8 M41.6,324.35h1.8 M41.6,303.05h1.8 M41.6,281.75h1.8 M41.6,260.45h1.8 M41.6,239.15h1.8 M41.6,217.85h1.8 M41.6,196.55h1.8" stroke="#383838" stroke-width="1.0" fill="none"/>
<path d="M259.6,335h-3.3 M259.6,313.7h-3.3 M259.6,292.4h-3.3 M259.6,271.1h-3.3 M259.6,249.8h-3.3 M259.6,228.5h-3.3 M259.6,207.2h-3.3" stroke="#383838" stroke-width="1.0" fill="none"/>
<path d="M259.6,345.65h-1.8 M259.6,324.35h-1.8 M259.6,303.05h-1.8 M259.6,281.75h-1.8 M259.6,260.45h-1.8 M259.6,239.15h-1.8 M259.6,217.85h-1.8 M259.6,196.55h-1.8" stroke="#383838" stroke-width="1.0" fill="none"/>
<path d="M74.3,356.3v-3.3 M107,356.3v-3.3 M139.7,356.3v-3.3 M172.4,356.3v-3.3 M205.1,356.3v-3.3 M237.8,356.3v-3.3" stroke="#383838" stroke-width="1.0" fill="none"/>
<path d="M57.95,356.3v-1.8 M90.65,356.3v-1.8 M123.35,356.3v-1.8 M156.05,356.3v-1.8 M188.75,356.3v-1.8 M221.45,356.3v-1.8" stroke="#383838" stroke-width="1.0" fill="none"/>
<text x="37.2" y="358.9" font-size="10" text-anchor="end" font-family='"Liberation Serif", serif' font-weight="bold" >0</text>
<text x="37.2" y="337.6" font-size="10" text-anchor="end" font-family='"Liberation Serif", serif' font-weight="bold" >5</text>
<text x="37.2" y="316.3" font-size="10" text-anchor="end" font-family='"Liberation Serif", serif' font-weight="bold" >10</text>
<text x="37.2" y="295" font-size="10" text-anchor="end" font-family='"Liberation Serif", serif' font-weight="bold" >15</text>
<text x="37.2" y="273.7" font-size="10" text-anchor="end" font-family='"Liberation Serif", serif' font-weight="bold" >20</text>
<text x="37.2" y="252.4" font-size="10" text-anchor="end" font-family='"Liberation Serif", serif' font-weight="bold" >25</text>
<text x="37.2" y="231.1" font-size="10" text-anchor="end" font-family='"Liberation Serif", serif' font-weight="bold" >30</text>
<text x="37.2" y="209.8" font-size="10" text-anchor="end" font-family='"Liberation Serif", serif' font-weight="bold" >35</text>
<text x="41.6" y="368.4" font-size="10" text-anchor="middle" font-family='"Liberation Serif", serif' font-weight="bold" >0.0</text>
<text x="74.3" y="368.4" font-size="10" text-anchor="middle" font-family='"Liberation Serif", serif' font-weight="bold" >0.1</text>
<text x="107" y="368.4" font-size="10" text-anchor="middle" font-family='"Liberation Serif", serif' font-weight="bold" >0.2</text>
<text x="139.7" y="368.4" font-size="10" text-anchor="middle" font-family='"Liberation Serif", serif' font-weight="bold" >0.3</text>
<text x="172.4" y="368.4" font-size="10" text-anchor="middle" font-family='"Liberation Serif", serif' font-weight="bold" >0.4</text>
<text x="205.1" y="368.4" font-size="10" text-anchor="middle" font-family='"Liberation Serif", serif' font-weight="bold" >0.5</text>
<text x="237.8" y="368.4" font-size="10" text-anchor="middle" font-family='"Liberation Serif", serif' font-weight="bold" >0.6</text>
<text x="134.4" y="382.6" font-size="11.4" font-family='"Liberation Serif", serif' font-weight="bold">V<tspan font-size="7.8" dy="2.2">oc</tspan><tspan dy="-2.2"> (V)</tspan></text>
<text transform="translate(18.6,276.5) rotate(-90)" text-anchor="middle" font-size="11.7" font-family='"Liberation Serif", serif' font-weight="bold">J<tspan font-size="8" dy="2.5">sc</tspan><tspan dy="-2.5"> (mA/cm</tspan><tspan font-size="7" dy="-4">2</tspan><tspan dy="4">)</tspan></text>
<polyline points="42.4,216.42 44.03,214.12 45.67,215.61 47.3,215.12 48.94,215.18 50.57,215.3 52.21,214.4 53.84,215.29 55.48,214.98 57.11,217.08 58.75,215.53 60.38,215.25 62.02,215.29 63.65,215.1 65.29,214.91 66.92,215.25 68.56,215.69 70.19,215.33 71.83,215.94 73.46,215.36 75.1,215.48 76.73,216.25 78.37,215.76 80,215.24 81.64,215.41 83.27,215.78 84.91,216.48 86.54,215.39 88.18,215.41 89.81,216.04 91.45,215.11 93.08,215.41 94.72,216.01 96.35,215.87 97.99,215.63 99.62,215.93 101.26,214.19 102.89,216.13 104.53,215.16 106.16,214.83 107.8,215.83 109.43,216.07 111.07,215.52 112.7,215.24 114.34,215.82 115.97,215.82 117.61,216.59 119.24,216.3 120.88,216.07 122.51,216.57 124.15,215.95 125.78,215.64 127.42,216.44 129.05,216.48 130.69,216.13 132.32,215.89 133.96,216.45 135.59,215.13 137.23,216.77 138.86,216.71 140.5,215.69 142.13,216.59 143.77,216.12 145.4,217.03 147.04,215.68 148.67,216.28 150.31,217.14 151.94,217.41 153.58,215.81 155.21,216.69 156.85,217.15 158.48,216.74 160.12,217.9 161.75,216.56 163.39,217.4 165.02,216.76 166.66,218.06 168.29,217.41 169.93,217.31 171.56,217.57 173.2,217.66 174.83,217.75 176.47,217.84 178.1,217.95 179.74,218.06 181.37,218.19 183.01,218.32 184.64,218.47 186.28,218.63 187.91,218.81 189.55,219.02 191.18,219.26 192.82,219.54 194.45,219.88 196.09,220.3 197.72,220.94 199.36,221.74 200.99,222.8 202.63,224.17 204.26,225.86 205.9,228.14 207.53,230.61 209.17,232.97 210.8,235.36 212.44,237.9 214.07,240.71 215.71,243.68 217.34,246.62 218.98,249.49 220.61,252.65 222.25,256.36 223.88,260.23 225.52,264.01 227.15,267.79 228.79,271.5 230.42,275.15 232.06,279.22 233.69,283.85 235.33,288.94 236.96,294.56 238.6,300.37 240.23,306.39 241.87,312.56 243.5,318.89 245.14,325.43 246.77,331.14 248.41,336.23 250.04,341.06 251.68,345.61 253.31,349.67 254.95,354.61" fill="none" stroke="#000" stroke-width="1.2"/>
<g fill="#000"><rect x="40.2" y="214.22" width="4.4" height="4.4"/><rect x="41.83" y="211.92" width="4.4" height="4.4"/><rect x="43.47" y="213.41" width="4.4" height="4.4"/><rect x="45.1" y="212.92" width="4.4" height="4.4"/><rect x="46.74" y="212.98" width="4.4" height="4.4"/><rect x="48.37" y="213.1" width="4.4" height="4.4"/><rect x="50.01" y="212.2" width="4.4" height="4.4"/><rect x="51.64" y="213.09" width="4.4" height="4.4"/><rect x="53.28" y="212.78" width="4.4" height="4.4"/><rect x="54.91" y="214.88" width="4.4" height="4.4"/><rect x="56.55" y="213.33" width="4.4" height="4.4"/><rect x="58.18" y="213.05" width="4.4" height="4.4"/><rect x="59.82" y="213.09" width="4.4" height="4.4"/><rect x="61.45" y="212.9" width="4.4" height="4.4"/><rect x="63.09" y="212.71" width="4.4" height="4.4"/><rect x="64.72" y="213.05" width="4.4" height="4.4"/><rect x="66.36" y="213.49" width="4.4" height="4.4"/><rect x="67.99" y="213.13" width="4.4" height="4.4"/><rect x="69.63" y="213.74" width="4.4" height="4.4"/><rect x="71.26" y="213.16" width="4.4" height="4.4"/><rect x="72.9" y="213.28" width="4.4" height="4.4"/><rect x="74.53" y="214.05" width="4.4" height="4.4"/><rect x="76.17" y="213.56" width="4.4" height="4.4"/><rect x="77.8" y="213.04" width="4.4" height="4.4"/><rect x="79.44" y="213.21" width="4.4" height="4.4"/><rect x="81.07" y="213.58" width="4.4" height="4.4"/><rect x="82.71" y="214.28" width="4.4" height="4.4"/><rect x="84.34" y="213.19" width="4.4" height="4.4"/><rect x="85.98" y="213.21" width="4.4" height="4.4"/><rect x="87.61" y="213.84" width="4.4" height="4.4"/><rect x="89.25" y="212.91" width="4.4" height="4.4"/><rect x="90.88" y="213.21" width="4.4" height="4.4"/><rect x="92.52" y="213.81" width="4.4" height="4.4"/><rect x="94.15" y="213.67" width="4.4" height="4.4"/><rect x="95.79" y="213.43" width="4.4" height="4.4"/><rect x="97.42" y="213.73" width="4.4" height="4.4"/><rect x="99.06" y="211.99" width="4.4" height="4.4"/><rect x="100.69" y="213.93" width="4.4" height="4.4"/><rect x="102.33" y="212.96" width="4.4" height="4.4"/><rect x="103.96" y="212.63" width="4.4" height="4.4"/><rect x="105.6" y="213.63" width="4.4" height="4.4"/><rect x="107.23" y="213.87" width="4.4" height="4.4"/><rect x="108.87" y="213.32" width="4.4" height="4.4"/><rect x="110.5" y="213.04" width="4.4" height="4.4"/><rect x="112.14" y="213.62" width="4.4" height="4.4"/><rect x="113.77" y="213.62" width="4.4" height="4.4"/><rect x="115.41" y="214.39" width="4.4" height="4.4"/><rect x="117.04" y="214.1" width="4.4" height="4.4"/><rect x="118.68" y="213.87" width="4.4" height="4.4"/><rect x="120.31" y="214.37" width="4.4" height="4.4"/><rect x="121.95" y="213.75" width="4.4" height="4.4"/><rect x="123.58" y="213.44" width="4.4" height="4.4"/><rect x="125.22" y="214.24" width="4.4" height="4.4"/><rect x="126.85" y="214.28" width="4.4" height="4.4"/><rect x="128.49" y="213.93" width="4.4" height="4.4"/><rect x="130.12" y="213.69" width="4.4" height="4.4"/><rect x="131.76" y="214.25" width="4.4" height="4.4"/><rect x="133.39" y="212.93" width="4.4" height="4.4"/><rect x="135.03" y="214.57" width="4.4" height="4.4"/><rect x="136.66" y="214.51" width="4.4" height="4.4"/><rect x="138.3" y="213.49" width="4.4" height="4.4"/><rect x="139.93" y="214.39" width="4.4" height="4.4"/><rect x="141.57" y="213.92" width="4.4" height="4.4"/><rect x="143.2" y="214.83" width="4.4" height="4.4"/><rect x="144.84" y="213.48" width="4.4" height="4.4"/><rect x="146.47" y="214.08" width="4.4" height="4.4"/><rect x="148.11" y="214.94" width="4.4" height="4.4"/><rect x="149.74" y="215.21" width="4.4" height="4.4"/><rect x="151.38" y="213.61" width="4.4" height="4.4"/><rect x="153.01" y="214.49" width="4.4" height="4.4"/><rect x="154.65" y="214.95" width="4.4" height="4.4"/><rect x="156.28" y="214.54" width="4.4" height="4.4"/><rect x="157.92" y="215.7" width="4.4" height="4.4"/><rect x="159.55" y="214.36" width="4.4" height="4.4"/><rect x="161.19" y="215.2" width="4.4" height="4.4"/><rect x="162.82" y="214.56" width="4.4" height="4.4"/><rect x="164.46" y="215.86" width="4.4" height="4.4"/><rect x="166.09" y="215.21" width="4.4" height="4.4"/><rect x="167.73" y="215.11" width="4.4" height="4.4"/><rect x="169.36" y="215.37" width="4.4" height="4.4"/><rect x="171" y="215.46" width="4.4" height="4.4"/><rect x="172.63" y="215.55" width="4.4" height="4.4"/><rect x="174.27" y="215.64" width="4.4" height="4.4"/><rect x="175.9" y="215.75" width="4.4" height="4.4"/><rect x="177.54" y="215.86" width="4.4" height="4.4"/><rect x="179.17" y="215.99" width="4.4" height="4.4"/><rect x="180.81" y="216.12" width="4.4" height="4.4"/><rect x="182.44" y="216.27" width="4.4" height="4.4"/><rect x="184.08" y="216.43" width="4.4" height="4.4"/><rect x="185.71" y="216.61" width="4.4" height="4.4"/><rect x="187.35" y="216.82" width="4.4" height="4.4"/><rect x="188.98" y="217.06" width="4.4" height="4.4"/><rect x="190.62" y="217.34" width="4.4" height="4.4"/><rect x="192.25" y="217.68" width="4.4" height="4.4"/><rect x="193.89" y="218.1" width="4.4" height="4.4"/><rect x="195.52" y="218.74" width="4.4" height="4.4"/><rect x="197.16" y="219.54" width="4.4" height="4.4"/><rect x="198.79" y="220.6" width="4.4" height="4.4"/><rect x="200.43" y="221.97" width="4.4" height="4.4"/><rect x="202.06" y="223.66" width="4.4" height="4.4"/><rect x="203.7" y="225.94" width="4.4" height="4.4"/><rect x="205.33" y="228.41" width="4.4" height="4.4"/><rect x="206.97" y="230.77" width="4.4" height="4.4"/><rect x="208.6" y="233.16" width="4.4" height="4.4"/><rect x="210.24" y="235.7" width="4.4" height="4.4"/><rect x="211.87" y="238.51" width="4.4" height="4.4"/><rect x="213.51" y="241.48" width="4.4" height="4.4"/><rect x="215.14" y="244.42" width="4.4" height="4.4"/><rect x="216.78" y="247.29" width="4.4" height="4.4"/><rect x="218.41" y="250.45" width="4.4" height="4.4"/><rect x="220.05" y="254.16" width="4.4" height="4.4"/><rect x="221.68" y="258.03" width="4.4" height="4.4"/><rect x="223.32" y="261.81" width="4.4" height="4.4"/><rect x="224.95" y="265.59" width="4.4" height="4.4"/><rect x="226.59" y="269.3" width="4.4" height="4.4"/><rect x="228.22" y="272.95" width="4.4" height="4.4"/><rect x="229.86" y="277.02" width="4.4" height="4.4"/><rect x="231.49" y="281.65" width="4.4" height="4.4"/><rect x="233.13" y="286.74" width="4.4" height="4.4"/><rect x="234.76" y="292.36" width="4.4" height="4.4"/><rect x="236.4" y="298.17" width="4.4" height="4.4"/><rect x="238.03" y="304.19" width="4.4" height="4.4"/><rect x="239.67" y="310.36" width="4.4" height="4.4"/><rect x="241.3" y="316.69" width="4.4" height="4.4"/><rect x="242.94" y="323.23" width="4.4" height="4.4"/><rect x="244.57" y="328.94" width="4.4" height="4.4"/><rect x="246.21" y="334.03" width="4.4" height="4.4"/><rect x="247.84" y="338.86" width="4.4" height="4.4"/><rect x="249.48" y="343.41" width="4.4" height="4.4"/><rect x="251.11" y="347.47" width="4.4" height="4.4"/><rect x="252.75" y="352.41" width="4.4" height="4.4"/></g>
<polyline points="42.4,205.61 44.03,206.09 45.67,205.75 47.3,207.03 48.94,206.56 50.57,206.04 52.21,205.96 53.84,206.47 55.48,205.82 57.11,205.7 58.75,206.48 60.38,207.57 62.02,206.08 63.65,205.91 65.29,205.58 66.92,205.49 68.56,206.51 70.19,206.7 71.83,206.24 73.46,206.42 75.1,206.3 76.73,206.32 78.37,205.4 80,206 81.64,206.31 83.27,205.82 84.91,206 86.54,205.81 88.18,206.08 89.81,206.74 91.45,206.05 93.08,206.2 94.72,206.73 96.35,206.64 97.99,207.23 99.62,205.15 101.26,206.78 102.89,206.04 104.53,206.39 106.16,206.78 107.8,206.93 109.43,206.91 111.07,206.43 112.7,207.24 114.34,206.21 115.97,206.3 117.61,206.83 119.24,206.1 120.88,207.6 122.51,206.99 124.15,207.64 125.78,206.44 127.42,206.26 129.05,206.58 130.69,206.9 132.32,206.19 133.96,206.74 135.59,206.54 137.23,207.46 138.86,206.22 140.5,207.18 142.13,206.27 143.77,206.12 145.4,206.28 147.04,206.04 148.67,206.8 150.31,207.32 151.94,206.87 153.58,207.16 155.21,207.76 156.85,207.05 158.48,207.06 160.12,206.85 161.75,206.18 163.39,207.57 165.02,206.29 166.66,207.73 168.29,207.5 169.93,208.29 171.56,207.85 173.2,208.08 174.83,208.42 176.47,208.83 178.1,209.28 179.74,209.73 181.37,210.16 183.01,210.62 184.64,211.09 186.28,211.58 187.91,212.09 189.55,212.62 191.18,213.16 192.82,213.73 194.45,214.31 196.09,214.88 197.72,215.45 199.36,216.05 200.99,216.75 202.63,217.57 204.26,218.51 205.9,219.6 207.53,220.89 209.17,222.56 210.8,224.55 212.44,226.68 214.07,228.95 215.71,231.46 217.34,234.24 218.98,237.36 220.61,240.9 222.25,245 223.88,249.26 225.52,253.55 227.15,257.29 228.79,261.28 230.42,266.14 232.06,271.74 233.69,277.67 235.33,283.1 236.96,288.59 238.6,294.11 240.23,299.56 241.87,305.04 243.5,310.97 245.14,318.05 246.77,326.5 248.41,332.86 250.04,338.55 251.68,344.76 253.31,351.21" fill="none" stroke="#f00" stroke-width="1.2"/>
<g fill="#f00"><circle cx="42.4" cy="205.61" r="2.7"/><circle cx="44.03" cy="206.09" r="2.7"/><circle cx="45.67" cy="205.75" r="2.7"/><circle cx="47.3" cy="207.03" r="2.7"/><circle cx="48.94" cy="206.56" r="2.7"/><circle cx="50.57" cy="206.04" r="2.7"/><circle cx="52.21" cy="205.96" r="2.7"/><circle cx="53.84" cy="206.47" r="2.7"/><circle cx="55.48" cy="205.82" r="2.7"/><circle cx="57.11" cy="205.7" r="2.7"/><circle cx="58.75" cy="206.48" r="2.7"/><circle cx="60.38" cy="207.57" r="2.7"/><circle cx="62.02" cy="206.08" r="2.7"/><circle cx="63.65" cy="205.91" r="2.7"/><circle cx="65.29" cy="205.58" r="2.7"/><circle cx="66.92" cy="205.49" r="2.7"/><circle cx="68.56" cy="206.51" r="2.7"/><circle cx="70.19" cy="206.7" r="2.7"/><circle cx="71.83" cy="206.24" r="2.7"/><circle cx="73.46" cy="206.42" r="2.7"/><circle cx="75.1" cy="206.3" r="2.7"/><circle cx="76.73" cy="206.32" r="2.7"/><circle cx="78.37" cy="205.4" r="2.7"/><circle cx="80" cy="206" r="2.7"/><circle cx="81.64" cy="206.31" r="2.7"/><circle cx="83.27" cy="205.82" r="2.7"/><circle cx="84.91" cy="206" r="2.7"/><circle cx="86.54" cy="205.81" r="2.7"/><circle cx="88.18" cy="206.08" r="2.7"/><circle cx="89.81" cy="206.74" r="2.7"/><circle cx="91.45" cy="206.05" r="2.7"/><circle cx="93.08" cy="206.2" r="2.7"/><circle cx="94.72" cy="206.73" r="2.7"/><circle cx="96.35" cy="206.64" r="2.7"/><circle cx="97.99" cy="207.23" r="2.7"/><circle cx="99.62" cy="205.15" r="2.7"/><circle cx="101.26" cy="206.78" r="2.7"/><circle cx="102.89" cy="206.04" r="2.7"/><circle cx="104.53" cy="206.39" r="2.7"/><circle cx="106.16" cy="206.78" r="2.7"/><circle cx="107.8" cy="206.93" r="2.7"/><circle cx="109.43" cy="206.91" r="2.7"/><circle cx="111.07" cy="206.43" r="2.7"/><circle cx="112.7" cy="207.24" r="2.7"/><circle cx="114.34" cy="206.21" r="2.7"/><circle cx="115.97" cy="206.3" r="2.7"/><circle cx="117.61" cy="206.83" r="2.7"/><circle cx="119.24" cy="206.1" r="2.7"/><circle cx="120.88" cy="207.6" r="2.7"/><circle cx="122.51" cy="206.99" r="2.7"/><circle cx="124.15" cy="207.64" r="2.7"/><circle cx="125.78" cy="206.44" r="2.7"/><circle cx="127.42" cy="206.26" r="2.7"/><circle cx="129.05" cy="206.58" r="2.7"/><circle cx="130.69" cy="206.9" r="2.7"/><circle cx="132.32" cy="206.19" r="2.7"/><circle cx="133.96" cy="206.74" r="2.7"/><circle cx="135.59" cy="206.54" r="2.7"/><circle cx="137.23" cy="207.46" r="2.7"/><circle cx="138.86" cy="206.22" r="2.7"/><circle cx="140.5" cy="207.18" r="2.7"/><circle cx="142.13" cy="206.27" r="2.7"/><circle cx="143.77" cy="206.12" r="2.7"/><circle cx="145.4" cy="206.28" r="2.7"/><circle cx="147.04" cy="206.04" r="2.7"/><circle cx="148.67" cy="206.8" r="2.7"/><circle cx="150.31" cy="207.32" r="2.7"/><circle cx="151.94" cy="206.87" r="2.7"/><circle cx="153.58" cy="207.16" r="2.7"/><circle cx="155.21" cy="207.76" r="2.7"/><circle cx="156.85" cy="207.05" r="2.7"/><circle cx="158.48" cy="207.06" r="2.7"/><circle cx="160.12" cy="206.85" r="2.7"/><circle cx="161.75" cy="206.18" r="2.7"/><circle cx="163.39" cy="207.57" r="2.7"/><circle cx="165.02" cy="206.29" r="2.7"/><circle cx="166.66" cy="207.73" r="2.7"/><circle cx="168.29" cy="207.5" r="2.7"/><circle cx="169.93" cy="208.29" r="2.7"/><circle cx="171.56" cy="207.85" r="2.7"/><circle cx="173.2" cy="208.08" r="2.7"/><circle cx="174.83" cy="208.42" r="2.7"/><circle cx="176.47" cy="208.83" r="2.7"/><circle cx="178.1" cy="209.28" r="2.7"/><circle cx="179.74" cy="209.73" r="2.7"/><circle cx="181.37" cy="210.16" r="2.7"/><circle cx="183.01" cy="210.62" r="2.7"/><circle cx="184.64" cy="211.09" r="2.7"/><circle cx="186.28" cy="211.58" r="2.7"/><circle cx="187.91" cy="212.09" r="2.7"/><circle cx="189.55" cy="212.62" r="2.7"/><circle cx="191.18" cy="213.16" r="2.7"/><circle cx="192.82" cy="213.73" r="2.7"/><circle cx="194.45" cy="214.31" r="2.7"/><circle cx="196.09" cy="214.88" r="2.7"/><circle cx="197.72" cy="215.45" r="2.7"/><circle cx="199.36" cy="216.05" r="2.7"/><circle cx="200.99" cy="216.75" r="2.7"/><circle cx="202.63" cy="217.57" r="2.7"/><circle cx="204.26" cy="218.51" r="2.7"/><circle cx="205.9" cy="219.6" r="2.7"/><circle cx="207.53" cy="220.89" r="2.7"/><circle cx="209.17" cy="222.56" r="2.7"/><circle cx="210.8" cy="224.55" r="2.7"/><circle cx="212.44" cy="226.68" r="2.7"/><circle cx="214.07" cy="228.95" r="2.7"/><circle cx="215.71" cy="231.46" r="2.7"/><circle cx="217.34" cy="234.24" r="2.7"/><circle cx="218.98" cy="237.36" r="2.7"/><circle cx="220.61" cy="240.9" r="2.7"/><circle cx="222.25" cy="245" r="2.7"/><circle cx="223.88" cy="249.26" r="2.7"/><circle cx="225.52" cy="253.55" r="2.7"/><circle cx="227.15" cy="257.29" r="2.7"/><circle cx="228.79" cy="261.28" r="2.7"/><circle cx="230.42" cy="266.14" r="2.7"/><circle cx="232.06" cy="271.74" r="2.7"/><circle cx="233.69" cy="277.67" r="2.7"/><circle cx="235.33" cy="283.1" r="2.7"/><circle cx="236.96" cy="288.59" r="2.7"/><circle cx="238.6" cy="294.11" r="2.7"/><circle cx="240.23" cy="299.56" r="2.7"/><circle cx="241.87" cy="305.04" r="2.7"/><circle cx="243.5" cy="310.97" r="2.7"/><circle cx="245.14" cy="318.05" r="2.7"/><circle cx="246.77" cy="326.5" r="2.7"/><circle cx="248.41" cy="332.86" r="2.7"/><circle cx="250.04" cy="338.55" r="2.7"/><circle cx="251.68" cy="344.76" r="2.7"/><circle cx="253.31" cy="351.21" r="2.7"/></g>
<polyline points="42.4,210.25 44.03,210.42 45.67,211.45 47.3,211.79 48.94,211.61 50.57,211.98 52.21,211.58 53.84,211.04 55.48,211.69 57.11,211.5 58.75,210.95 60.38,211.62 62.02,212.07 63.65,211.24 65.29,210.78 66.92,211.64 68.56,212.6 70.19,210.92 71.83,211.02 73.46,211 75.1,212.09 76.73,209.66 78.37,211.43 80,212.1 81.64,210.51 83.27,212.36 84.91,211.61 86.54,210.75 88.18,211.37 89.81,209.99 91.45,210.78 93.08,212.71 94.72,210.54 96.35,212.75 97.99,211.22 99.62,212.09 101.26,211.35 102.89,209.53 104.53,210.89 106.16,211.52 107.8,210.46 109.43,210.33 111.07,211.72 112.7,210.94 114.34,210.13 115.97,210.96 117.61,212.23 119.24,211.19 120.88,212.35 122.51,212.86 124.15,211.7 125.78,210.8 127.42,210.7 129.05,211.76 130.69,212.52 132.32,212.07 133.96,212.34 135.59,211.59 137.23,212.23 138.86,211.67 140.5,211.84 142.13,211.12 143.77,210.96 145.4,211.9 147.04,211.47 148.67,211.67 150.31,213.05 151.94,212.52 153.58,215.04 155.21,213.57 156.85,212.45 158.48,213.72 160.12,213.54 161.75,212.87 163.39,214.49 165.02,213.18 166.66,211.59 168.29,214.97 169.93,214.18 171.56,215.05 173.2,215.45 174.83,215.87 176.47,216.3 178.1,216.73 179.74,217.14 181.37,217.52 183.01,217.88 184.64,218.24 186.28,218.64 187.91,219.09 189.55,219.63 191.18,220.3 192.82,221.17 194.45,222.26 196.09,223.62 197.72,225.44 199.36,228.55 200.99,231.82 202.63,234.47 204.26,237 205.9,239.67 207.53,242.5 209.17,245.37 210.8,248.14 212.44,250.96 214.07,254.24 215.71,258.19 217.34,262.41 218.98,266.42 220.61,270.1 222.25,273.66 223.88,277.26 225.52,281.02 227.15,284.94 228.79,289.03 230.42,293.41 232.06,298.14 233.69,303.3 235.33,309.05 236.96,315.11 238.6,321.38 240.23,327.63 241.87,333.74 243.5,339.52 245.14,344.28 246.77,349.83 248.41,355.58" fill="none" stroke="#00f" stroke-width="1.2"/>
<g fill="#00f"><path d="M42.4,207.15l2.9,5.2h-5.8z"/><path d="M44.03,207.32l2.9,5.2h-5.8z"/><path d="M45.67,208.35l2.9,5.2h-5.8z"/><path d="M47.3,208.69l2.9,5.2h-5.8z"/><path d="M48.94,208.51l2.9,5.2h-5.8z"/><path d="M50.57,208.88l2.9,5.2h-5.8z"/><path d="M52.21,208.48l2.9,5.2h-5.8z"/><path d="M53.84,207.94l2.9,5.2h-5.8z"/><path d="M55.48,208.59l2.9,5.2h-5.8z"/><path d="M57.11,208.4l2.9,5.2h-5.8z"/><path d="M58.75,207.85l2.9,5.2h-5.8z"/><path d="M60.38,208.52l2.9,5.2h-5.8z"/><path d="M62.02,208.97l2.9,5.2h-5.8z"/><path d="M63.65,208.14l2.9,5.2h-5.8z"/><path d="M65.29,207.68l2.9,5.2h-5.8z"/><path d="M66.92,208.54l2.9,5.2h-5.8z"/><path d="M68.56,209.5l2.9,5.2h-5.8z"/><path d="M70.19,207.82l2.9,5.2h-5.8z"/><path d="M71.83,207.92l2.9,5.2h-5.8z"/><path d="M73.46,207.9l2.9,5.2h-5.8z"/><path d="M75.1,208.99l2.9,5.2h-5.8z"/><path d="M76.73,206.56l2.9,5.2h-5.8z"/><path d="M78.37,208.33l2.9,5.2h-5.8z"/><path d="M80,209l2.9,5.2h-5.8z"/><path d="M81.64,207.41l2.9,5.2h-5.8z"/><path d="M83.27,209.26l2.9,5.2h-5.8z"/><path d="M84.91,208.51l2.9,5.2h-5.8z"/><path d="M86.54,207.65l2.9,5.2h-5.8z"/><path d="M88.18,208.27l2.9,5.2h-5.8z"/><path d="M89.81,206.89l2.9,5.2h-5.8z"/><path d="M91.45,207.68l2.9,5.2h-5.8z"/><path d="M93.08,209.61l2.9,5.2h-5.8z"/><path d="M94.72,207.44l2.9,5.2h-5.8z"/><path d="M96.35,209.65l2.9,5.2h-5.8z"/><path d="M97.99,208.12l2.9,5.2h-5.8z"/><path d="M99.62,208.99l2.9,5.2h-5.8z"/><path d="M101.26,208.25l2.9,5.2h-5.8z"/><path d="M102.89,206.43l2.9,5.2h-5.8z"/><path d="M104.53,207.79l2.9,5.2h-5.8z"/><path d="M106.16,208.42l2.9,5.2h-5.8z"/><path d="M107.8,207.36l2.9,5.2h-5.8z"/><path d="M109.43,207.23l2.9,5.2h-5.8z"/><path d="M111.07,208.62l2.9,5.2h-5.8z"/><path d="M112.7,207.84l2.9,5.2h-5.8z"/><path d="M114.34,207.03l2.9,5.2h-5.8z"/><path d="M115.97,207.86l2.9,5.2h-5.8z"/><path d="M117.61,209.13l2.9,5.2h-5.8z"/><path d="M119.24,208.09l2.9,5.2h-5.8z"/><path d="M120.88,209.25l2.9,5.2h-5.8z"/><path d="M122.51,209.76l2.9,5.2h-5.8z"/><path d="M124.15,208.6l2.9,5.2h-5.8z"/><path d="M125.78,207.7l2.9,5.2h-5.8z"/><path d="M127.42,207.6l2.9,5.2h-5.8z"/><path d="M129.05,208.66l2.9,5.2h-5.8z"/><path d="M130.69,209.42l2.9,5.2h-5.8z"/><path d="M132.32,208.97l2.9,5.2h-5.8z"/><path d="M133.96,209.24l2.9,5.2h-5.8z"/><path d="M135.59,208.49l2.9,5.2h-5.8z"/><path d="M137.23,209.13l2.9,5.2h-5.8z"/><path d="M138.86,208.57l2.9,5.2h-5.8z"/><path d="M140.5,208.74l2.9,5.2h-5.8z"/><path d="M142.13,208.02l2.9,5.2h-5.8z"/><path d="M143.77,207.86l2.9,5.2h-5.8z"/><path d="M145.4,208.8l2.9,5.2h-5.8z"/><path d="M147.04,208.37l2.9,5.2h-5.8z"/><path d="M148.67,208.57l2.9,5.2h-5.8z"/><path d="M150.31,209.95l2.9,5.2h-5.8z"/><path d="M151.94,209.42l2.9,5.2h-5.8z"/><path d="M153.58,211.94l2.9,5.2h-5.8z"/><path d="M155.21,210.47l2.9,5.2h-5.8z"/><path d="M156.85,209.35l2.9,5.2h-5.8z"/><path d="M158.48,210.62l2.9,5.2h-5.8z"/><path d="M160.12,210.44l2.9,5.2h-5.8z"/><path d="M161.75,209.77l2.9,5.2h-5.8z"/><path d="M163.39,211.39l2.9,5.2h-5.8z"/><path d="M165.02,210.08l2.9,5.2h-5.8z"/><path d="M166.66,208.49l2.9,5.2h-5.8z"/><path d="M168.29,211.87l2.9,5.2h-5.8z"/><path d="M169.93,211.08l2.9,5.2h-5.8z"/><path d="M171.56,211.95l2.9,5.2h-5.8z"/><path d="M173.2,212.35l2.9,5.2h-5.8z"/><path d="M174.83,212.77l2.9,5.2h-5.8z"/><path d="M176.47,213.2l2.9,5.2h-5.8z"/><path d="M178.1,213.63l2.9,5.2h-5.8z"/><path d="M179.74,214.04l2.9,5.2h-5.8z"/><path d="M181.37,214.42l2.9,5.2h-5.8z"/><path d="M183.01,214.78l2.9,5.2h-5.8z"/><path d="M184.64,215.14l2.9,5.2h-5.8z"/><path d="M186.28,215.54l2.9,5.2h-5.8z"/><path d="M187.91,215.99l2.9,5.2h-5.8z"/><path d="M189.55,216.53l2.9,5.2h-5.8z"/><path d="M191.18,217.2l2.9,5.2h-5.8z"/><path d="M192.82,218.07l2.9,5.2h-5.8z"/><path d="M194.45,219.16l2.9,5.2h-5.8z"/><path d="M196.09,220.52l2.9,5.2h-5.8z"/><path d="M197.72,222.34l2.9,5.2h-5.8z"/><path d="M199.36,225.45l2.9,5.2h-5.8z"/><path d="M200.99,228.72l2.9,5.2h-5.8z"/><path d="M202.63,231.37l2.9,5.2h-5.8z"/><path d="M204.26,233.9l2.9,5.2h-5.8z"/><path d="M205.9,236.57l2.9,5.2h-5.8z"/><path d="M207.53,239.4l2.9,5.2h-5.8z"/><path d="M209.17,242.27l2.9,5.2h-5.8z"/><path d="M210.8,245.04l2.9,5.2h-5.8z"/><path d="M212.44,247.86l2.9,5.2h-5.8z"/><path d="M214.07,251.14l2.9,5.2h-5.8z"/><path d="M215.71,255.09l2.9,5.2h-5.8z"/><path d="M217.34,259.31l2.9,5.2h-5.8z"/><path d="M218.98,263.32l2.9,5.2h-5.8z"/><path d="M220.61,267l2.9,5.2h-5.8z"/><path d="M222.25,270.56l2.9,5.2h-5.8z"/><path d="M223.88,274.16l2.9,5.2h-5.8z"/><path d="M225.52,277.92l2.9,5.2h-5.8z"/><path d="M227.15,281.84l2.9,5.2h-5.8z"/><path d="M228.79,285.93l2.9,5.2h-5.8z"/><path d="M230.42,290.31l2.9,5.2h-5.8z"/><path d="M232.06,295.04l2.9,5.2h-5.8z"/><path d="M233.69,300.2l2.9,5.2h-5.8z"/><path d="M235.33,305.95l2.9,5.2h-5.8z"/><path d="M236.96,312.01l2.9,5.2h-5.8z"/><path d="M238.6,318.28l2.9,5.2h-5.8z"/><path d="M240.23,324.53l2.9,5.2h-5.8z"/><path d="M241.87,330.64l2.9,5.2h-5.8z"/><path d="M243.5,336.42l2.9,5.2h-5.8z"/><path d="M245.14,341.18l2.9,5.2h-5.8z"/><path d="M246.77,346.73l2.9,5.2h-5.8z"/><path d="M248.41,352.48l2.9,5.2h-5.8z"/></g>
<rect x="56.5" y="309.5" width="51.6" height="37.5" fill="#111"/>
<rect x="54.3" y="307.3" width="51.6" height="37.5" fill="#fff" stroke="#777" stroke-width="0.6"/>
<line x1="56" y1="314.9" x2="74.5" y2="314.9" stroke="#111" stroke-width="1.2"/><rect x="63.3" y="312.6" width="4.8" height="4.6" fill="#000"/>
<line x1="56" y1="327.6" x2="74.5" y2="327.6" stroke="#f00" stroke-width="1.2"/><circle cx="65.6" cy="327.6" r="2.7" fill="#f00"/>
<line x1="56" y1="340.1" x2="74.5" y2="340.1" stroke="#00f" stroke-width="1.2"/><path d="M65.6,336.9l3.1,5.4h-6.2z" fill="#00f"/>
<text x="77" y="318.1" font-size="9.3" text-anchor="start" font-family='"Liberation Serif", serif' font-weight="bold" >50 W</text>
<text x="77" y="330.8" font-size="9.3" text-anchor="start" font-family='"Liberation Serif", serif' font-weight="bold" >100 W</text>
<text x="77" y="343.3" font-size="9.3" text-anchor="start" font-family='"Liberation Serif", serif' font-weight="bold" >150 W</text>
<text transform="translate(232.3,220.6) scale(0.95,1)" text-anchor="middle" font-size="21.5" font-family='"Liberation Sans", sans-serif' font-weight="bold">(c)</text>
</g>
<g id="pd">
<rect x="335.9" y="199.6" width="208.3" height="158" fill="none" stroke="#383838" stroke-width="1.4"/>
<path d="M335.9,349.3h3.3 M335.9,312.05h3.3 M335.9,274.8h3.3 M335.9,237.55h3.3 M335.9,200.3h3.3" stroke="#383838" stroke-width="1.0" fill="none"/>
<path d="M335.9,330.68h1.8 M335.9,293.43h1.8 M335.9,256.18h1.8 M335.9,218.93h1.8" stroke="#383838" stroke-width="1.0" fill="none"/>
<path d="M544.2,341.8h-2.4 M544.2,326h-2.4 M544.2,310.2h-2.4 M544.2,294.4h-2.4 M544.2,278.6h-2.4 M544.2,262.8h-2.4 M544.2,247h-2.4" stroke="#383838" stroke-width="1.0" fill="none"/>
<path d="M361.95,357.6v-3.3 M414.05,357.6v-3.3 M466.15,357.6v-3.3 M518.25,357.6v-3.3" stroke="#383838" stroke-width="1.0" fill="none"/>
<path d="M388,357.6v-1.8 M440.1,357.6v-1.8 M492.2,357.6v-1.8 M544.3,357.6v-1.8" stroke="#383838" stroke-width="1.0" fill="none"/>
<text x="327.2" y="203.5" font-size="9.9" text-anchor="end" font-family='"Liberation Serif", serif' font-weight="bold">1.7x10</text>
<text x="327.5" y="199.1" font-size="5" font-family='"Liberation Serif", serif' font-weight="bold">-3</text>
<text x="327.2" y="240.75" font-size="9.9" text-anchor="end" font-family='"Liberation Serif", serif' font-weight="bold">1.3x10</text>
<text x="327.5" y="236.35" font-size="5" font-family='"Liberation Serif", serif' font-weight="bold">-3</text>
<text x="327.2" y="278" font-size="9.9" text-anchor="end" font-family='"Liberation Serif", serif' font-weight="bold">9.0x10</text>
<text x="327.5" y="273.6" font-size="5" font-family='"Liberation Serif", serif' font-weight="bold">-4</text>
<text x="327.2" y="315.25" font-size="9.9" text-anchor="end" font-family='"Liberation Serif", serif' font-weight="bold">5.0x10</text>
<text x="327.5" y="310.85" font-size="5" font-family='"Liberation Serif", serif' font-weight="bold">-4</text>
<text x="327.2" y="352.5" font-size="9.9" text-anchor="end" font-family='"Liberation Serif", serif' font-weight="bold">1.0x10</text>
<text x="327.5" y="348.1" font-size="5" font-family='"Liberation Serif", serif' font-weight="bold">-4</text>
<text x="361.95" y="369.6" font-size="9.5" text-anchor="middle" font-family='"Liberation Serif", serif' font-weight="bold" >2</text>
<text x="414.05" y="369.6" font-size="9.5" text-anchor="middle" font-family='"Liberation Serif", serif' font-weight="bold" >4</text>
<text x="466.15" y="369.6" font-size="9.5" text-anchor="middle" font-family='"Liberation Serif", serif' font-weight="bold" >6</text>
<text x="518.25" y="369.6" font-size="9.5" text-anchor="middle" font-family='"Liberation Serif", serif' font-weight="bold" >8</text>
<text x="404.9" y="386.2" font-size="11.7" font-family='"Liberation Serif", serif' font-weight="bold">&#916;n(&#215;10<tspan font-size="8" dy="-4">15</tspan><tspan dy="4">cm</tspan><tspan font-size="7" dy="-4">-3</tspan><tspan dy="4">)</tspan></text>
<text x="0" y="0" font-size="12" text-anchor="middle" font-family='"Liberation Serif", serif' font-weight="bold" transform="translate(292.3,278.4) rotate(-90)">Carrier Lifetime (s)</text>
<polyline points="337.01,248.75 338.33,249.96 339.71,250 341.16,249.99 342.69,249.31 344.29,249.27 345.96,249.57 347.72,250.01 349.56,250.46 351.49,250.92 353.52,251.44 355.64,251.98 357.87,252.49 360.2,252.97 362.65,253.44 365.22,253.91 367.92,254.36 370.74,254.81 373.7,255.28 376.81,255.78 380.07,256.28 383.48,256.83 387.06,257.44 390.82,258.1 394.76,258.81 398.89,259.56 403.22,260.39 407.76,261.28 412.53,262.13 417.52,262.87 422.76,263.54 428.25,264.21 434.01,264.86 440.05,265.49 446.38,266.17 453.03,266.99 459.99,267.95 467.3,268.98 474.95,270.02 482.99,271.13 491.41,272.37 500.24,273.86 509.5,275.25 519.21,276.4 529.4,277.57 540.08,278.88" fill="none" stroke="#000" stroke-width="1.7"/>
<g fill="#000"><rect x="335.11" y="246.85" width="3.8" height="3.8"/><rect x="336.43" y="248.06" width="3.8" height="3.8"/><rect x="337.81" y="248.1" width="3.8" height="3.8"/><rect x="339.26" y="248.09" width="3.8" height="3.8"/><rect x="340.79" y="247.41" width="3.8" height="3.8"/><rect x="342.39" y="247.37" width="3.8" height="3.8"/><rect x="344.06" y="247.67" width="3.8" height="3.8"/><rect x="345.82" y="248.11" width="3.8" height="3.8"/><rect x="347.66" y="248.56" width="3.8" height="3.8"/><rect x="349.59" y="249.02" width="3.8" height="3.8"/><rect x="351.62" y="249.54" width="3.8" height="3.8"/><rect x="353.74" y="250.08" width="3.8" height="3.8"/><rect x="355.97" y="250.59" width="3.8" height="3.8"/><rect x="358.3" y="251.07" width="3.8" height="3.8"/><rect x="360.75" y="251.54" width="3.8" height="3.8"/><rect x="363.32" y="252.01" width="3.8" height="3.8"/><rect x="366.02" y="252.46" width="3.8" height="3.8"/><rect x="368.84" y="252.91" width="3.8" height="3.8"/><rect x="371.8" y="253.38" width="3.8" height="3.8"/><rect x="374.91" y="253.88" width="3.8" height="3.8"/><rect x="378.17" y="254.38" width="3.8" height="3.8"/><rect x="381.58" y="254.93" width="3.8" height="3.8"/><rect x="385.16" y="255.54" width="3.8" height="3.8"/><rect x="388.92" y="256.2" width="3.8" height="3.8"/><rect x="392.86" y="256.91" width="3.8" height="3.8"/><rect x="396.99" y="257.66" width="3.8" height="3.8"/><rect x="401.32" y="258.49" width="3.8" height="3.8"/><rect x="405.86" y="259.38" width="3.8" height="3.8"/><rect x="410.63" y="260.23" width="3.8" height="3.8"/><rect x="415.62" y="260.97" width="3.8" height="3.8"/><rect x="420.86" y="261.64" width="3.8" height="3.8"/><rect x="426.35" y="262.31" width="3.8" height="3.8"/><rect x="432.11" y="262.96" width="3.8" height="3.8"/><rect x="438.15" y="263.59" width="3.8" height="3.8"/><rect x="444.48" y="264.27" width="3.8" height="3.8"/><rect x="451.13" y="265.09" width="3.8" height="3.8"/><rect x="458.09" y="266.05" width="3.8" height="3.8"/><rect x="465.4" y="267.08" width="3.8" height="3.8"/><rect x="473.05" y="268.12" width="3.8" height="3.8"/><rect x="481.09" y="269.23" width="3.8" height="3.8"/><rect x="489.51" y="270.47" width="3.8" height="3.8"/><rect x="498.34" y="271.96" width="3.8" height="3.8"/><rect x="507.6" y="273.35" width="3.8" height="3.8"/><rect x="517.31" y="274.5" width="3.8" height="3.8"/><rect x="527.5" y="275.67" width="3.8" height="3.8"/><rect x="538.18" y="276.98" width="3.8" height="3.8"/></g>
<polyline points="337.01,262.95 338.33,262.61 339.71,262.27 341.16,261.92 342.69,261.56 344.29,261.18 345.96,260.72 347.72,260.16 349.56,259.68 351.49,259.41 353.52,259.23 355.64,259.04 357.87,258.81 360.2,258.7 362.65,258.7 365.22,258.7 367.92,258.83 370.74,259.32 373.7,259.86 376.81,260.23 380.07,260.57 383.48,260.89 387.06,261.22 390.82,261.57 394.76,261.97 398.89,262.44 403.22,262.95 407.76,263.51 412.53,264.15 417.52,264.9 422.76,265.85 428.25,266.9 434.01,267.86 440.05,268.59 446.38,269.2 453.03,269.81 459.99,270.6 467.3,271.76 474.95,273.25 482.99,274.88 491.41,276.41 500.24,277.85 509.5,279.29 519.21,280.71 529.4,282.21 540.08,283.86" fill="none" stroke="#f00" stroke-width="1.7"/>
<g fill="#f00"><circle cx="337.01" cy="262.95" r="2.2"/><circle cx="338.33" cy="262.61" r="2.2"/><circle cx="339.71" cy="262.27" r="2.2"/><circle cx="341.16" cy="261.92" r="2.2"/><circle cx="342.69" cy="261.56" r="2.2"/><circle cx="344.29" cy="261.18" r="2.2"/><circle cx="345.96" cy="260.72" r="2.2"/><circle cx="347.72" cy="260.16" r="2.2"/><circle cx="349.56" cy="259.68" r="2.2"/><circle cx="351.49" cy="259.41" r="2.2"/><circle cx="353.52" cy="259.23" r="2.2"/><circle cx="355.64" cy="259.04" r="2.2"/><circle cx="357.87" cy="258.81" r="2.2"/><circle cx="360.2" cy="258.7" r="2.2"/><circle cx="362.65" cy="258.7" r="2.2"/><circle cx="365.22" cy="258.7" r="2.2"/><circle cx="367.92" cy="258.83" r="2.2"/><circle cx="370.74" cy="259.32" r="2.2"/><circle cx="373.7" cy="259.86" r="2.2"/><circle cx="376.81" cy="260.23" r="2.2"/><circle cx="380.07" cy="260.57" r="2.2"/><circle cx="383.48" cy="260.89" r="2.2"/><circle cx="387.06" cy="261.22" r="2.2"/><circle cx="390.82" cy="261.57" r="2.2"/><circle cx="394.76" cy="261.97" r="2.2"/><circle cx="398.89" cy="262.44" r="2.2"/><circle cx="403.22" cy="262.95" r="2.2"/><circle cx="407.76" cy="263.51" r="2.2"/><circle cx="412.53" cy="264.15" r="2.2"/><circle cx="417.52" cy="264.9" r="2.2"/><circle cx="422.76" cy="265.85" r="2.2"/><circle cx="428.25" cy="266.9" r="2.2"/><circle cx="434.01" cy="267.86" r="2.2"/><circle cx="440.05" cy="268.59" r="2.2"/><circle cx="446.38" cy="269.2" r="2.2"/><circle cx="453.03" cy="269.81" r="2.2"/><circle cx="459.99" cy="270.6" r="2.2"/><circle cx="467.3" cy="271.76" r="2.2"/><circle cx="474.95" cy="273.25" r="2.2"/><circle cx="482.99" cy="274.88" r="2.2"/><circle cx="491.41" cy="276.41" r="2.2"/><circle cx="500.24" cy="277.85" r="2.2"/><circle cx="509.5" cy="279.29" r="2.2"/><circle cx="519.21" cy="280.71" r="2.2"/><circle cx="529.4" cy="282.21" r="2.2"/><circle cx="540.08" cy="283.86" r="2.2"/></g>
<polyline points="337.01,291.98 338.33,290.06 339.71,288.39 341.16,287.05 342.69,285.89 344.29,284.86 345.96,283.85 347.72,282.91 349.56,282.1 351.49,281.39 353.52,280.75 355.64,280.15 357.87,279.59 360.2,279.06 362.65,278.56 365.22,278.09 367.92,277.65 370.74,277.23 373.7,276.81 376.81,276.4 380.07,276 383.48,275.61 387.06,275.24 390.82,274.88 394.76,274.53 398.89,274.21 403.22,273.94 407.76,273.69 412.53,273.45 417.52,273.19 422.76,272.93 428.25,272.8 434.01,272.85 440.05,272.99 446.38,273.19 453.03,273.41 459.99,273.72 467.3,274.06 474.95,274.42 482.99,274.79 491.41,275.06 500.24,275.23 509.5,275.47 519.21,276.02 529.4,276.68 540.08,277.34" fill="none" stroke="#00f" stroke-width="1.7"/>
<g fill="#00f"><path d="M337.01,289.58l2.3,4h-4.6z"/><path d="M338.33,287.66l2.3,4h-4.6z"/><path d="M339.71,285.99l2.3,4h-4.6z"/><path d="M341.16,284.65l2.3,4h-4.6z"/><path d="M342.69,283.49l2.3,4h-4.6z"/><path d="M344.29,282.46l2.3,4h-4.6z"/><path d="M345.96,281.45l2.3,4h-4.6z"/><path d="M347.72,280.51l2.3,4h-4.6z"/><path d="M349.56,279.7l2.3,4h-4.6z"/><path d="M351.49,278.99l2.3,4h-4.6z"/><path d="M353.52,278.35l2.3,4h-4.6z"/><path d="M355.64,277.75l2.3,4h-4.6z"/><path d="M357.87,277.19l2.3,4h-4.6z"/><path d="M360.2,276.66l2.3,4h-4.6z"/><path d="M362.65,276.16l2.3,4h-4.6z"/><path d="M365.22,275.69l2.3,4h-4.6z"/><path d="M367.92,275.25l2.3,4h-4.6z"/><path d="M370.74,274.83l2.3,4h-4.6z"/><path d="M373.7,274.41l2.3,4h-4.6z"/><path d="M376.81,274l2.3,4h-4.6z"/><path d="M380.07,273.6l2.3,4h-4.6z"/><path d="M383.48,273.21l2.3,4h-4.6z"/><path d="M387.06,272.84l2.3,4h-4.6z"/><path d="M390.82,272.48l2.3,4h-4.6z"/><path d="M394.76,272.13l2.3,4h-4.6z"/><path d="M398.89,271.81l2.3,4h-4.6z"/><path d="M403.22,271.54l2.3,4h-4.6z"/><path d="M407.76,271.29l2.3,4h-4.6z"/><path d="M412.53,271.05l2.3,4h-4.6z"/><path d="M417.52,270.79l2.3,4h-4.6z"/><path d="M422.76,270.53l2.3,4h-4.6z"/><path d="M428.25,270.4l2.3,4h-4.6z"/><path d="M434.01,270.45l2.3,4h-4.6z"/><path d="M440.05,270.59l2.3,4h-4.6z"/><path d="M446.38,270.79l2.3,4h-4.6z"/><path d="M453.03,271.01l2.3,4h-4.6z"/><path d="M459.99,271.32l2.3,4h-4.6z"/><path d="M467.3,271.66l2.3,4h-4.6z"/><path d="M474.95,272.02l2.3,4h-4.6z"/><path d="M482.99,272.39l2.3,4h-4.6z"/><path d="M491.41,272.66l2.3,4h-4.6z"/><path d="M500.24,272.83l2.3,4h-4.6z"/><path d="M509.5,273.07l2.3,4h-4.6z"/><path d="M519.21,273.62l2.3,4h-4.6z"/><path d="M529.4,274.28l2.3,4h-4.6z"/><path d="M540.08,274.94l2.3,4h-4.6z"/></g>
<polyline points="337.01,339.65 338.33,338.59 339.71,337.58 341.16,336.71 342.69,335.95 344.29,335.24 345.96,334.57 347.72,333.93 349.56,333.29 351.49,332.63 353.52,331.96 355.64,331.28 357.87,330.62 360.2,329.99 362.65,329.41 365.22,328.82 367.92,328.24 370.74,327.7 373.7,327.25 376.81,326.92 380.07,326.62 383.48,326.35 387.06,326.11 390.82,325.89 394.76,325.71 398.89,325.55 403.22,325.41 407.76,325.28 412.53,325.16 417.52,325.04 422.76,324.9 428.25,324.77 434.01,324.7 440.05,324.71 446.38,324.77 453.03,324.86 459.99,324.98 467.3,325.13 474.95,325.29 482.99,325.47 491.41,325.71 500.24,325.99 509.5,326.23 519.21,326.44 529.4,326.63 540.08,326.79" fill="none" stroke="#008a8a" stroke-width="1.7"/>
<g fill="#008a8a"><path d="M337.01,342.05l2.3,-4h-4.6z"/><path d="M338.33,340.99l2.3,-4h-4.6z"/><path d="M339.71,339.98l2.3,-4h-4.6z"/><path d="M341.16,339.11l2.3,-4h-4.6z"/><path d="M342.69,338.35l2.3,-4h-4.6z"/><path d="M344.29,337.64l2.3,-4h-4.6z"/><path d="M345.96,336.97l2.3,-4h-4.6z"/><path d="M347.72,336.33l2.3,-4h-4.6z"/><path d="M349.56,335.69l2.3,-4h-4.6z"/><path d="M351.49,335.03l2.3,-4h-4.6z"/><path d="M353.52,334.36l2.3,-4h-4.6z"/><path d="M355.64,333.68l2.3,-4h-4.6z"/><path d="M357.87,333.02l2.3,-4h-4.6z"/><path d="M360.2,332.39l2.3,-4h-4.6z"/><path d="M362.65,331.81l2.3,-4h-4.6z"/><path d="M365.22,331.22l2.3,-4h-4.6z"/><path d="M367.92,330.64l2.3,-4h-4.6z"/><path d="M370.74,330.1l2.3,-4h-4.6z"/><path d="M373.7,329.65l2.3,-4h-4.6z"/><path d="M376.81,329.32l2.3,-4h-4.6z"/><path d="M380.07,329.02l2.3,-4h-4.6z"/><path d="M383.48,328.75l2.3,-4h-4.6z"/><path d="M387.06,328.51l2.3,-4h-4.6z"/><path d="M390.82,328.29l2.3,-4h-4.6z"/><path d="M394.76,328.11l2.3,-4h-4.6z"/><path d="M398.89,327.95l2.3,-4h-4.6z"/><path d="M403.22,327.81l2.3,-4h-4.6z"/><path d="M407.76,327.68l2.3,-4h-4.6z"/><path d="M412.53,327.56l2.3,-4h-4.6z"/><path d="M417.52,327.44l2.3,-4h-4.6z"/><path d="M422.76,327.3l2.3,-4h-4.6z"/><path d="M428.25,327.17l2.3,-4h-4.6z"/><path d="M434.01,327.1l2.3,-4h-4.6z"/><path d="M440.05,327.11l2.3,-4h-4.6z"/><path d="M446.38,327.17l2.3,-4h-4.6z"/><path d="M453.03,327.26l2.3,-4h-4.6z"/><path d="M459.99,327.38l2.3,-4h-4.6z"/><path d="M467.3,327.53l2.3,-4h-4.6z"/><path d="M474.95,327.69l2.3,-4h-4.6z"/><path d="M482.99,327.87l2.3,-4h-4.6z"/><path d="M491.41,328.11l2.3,-4h-4.6z"/><path d="M500.24,328.39l2.3,-4h-4.6z"/><path d="M509.5,328.63l2.3,-4h-4.6z"/><path d="M519.21,328.84l2.3,-4h-4.6z"/><path d="M529.4,329.03l2.3,-4h-4.6z"/><path d="M540.08,329.19l2.3,-4h-4.6z"/></g>
<rect x="393" y="202" width="151.6" height="45" fill="#111"/>
<rect x="390.4" y="199.2" width="151.6" height="45" fill="#fff" stroke="#999" stroke-width="0.6"/>
<line x1="394.2" y1="205.7" x2="412.2" y2="205.7" stroke="#000" stroke-width="1.2"/>
<rect x="401.6" y="203.9" width="3.6" height="3.6" fill="#000"/>
<text x="414.8" y="208.9" font-size="9.05" text-anchor="start" font-family='"Liberation Serif", serif' font-weight="bold" >HIT cell-2 before ITO deposition</text>
<line x1="394.2" y1="217.2" x2="412.2" y2="217.2" stroke="#f00" stroke-width="1.2"/>
<circle cx="403.4" cy="217.2" r="2" fill="#f00"/>
<text x="414.8" y="220.4" font-size="9.05" text-anchor="start" font-family='"Liberation Serif", serif' font-weight="bold" >HIT cell-2 with ITO (100W)</text>
<line x1="394.2" y1="228.4" x2="412.2" y2="228.4" stroke="#00f" stroke-width="1.2"/>
<path d="M403.4,226.2l2.2,3.6h-4.4z" fill="#00f"/>
<text x="414.8" y="231.6" font-size="9.05" text-anchor="start" font-family='"Liberation Serif", serif' font-weight="bold" >HIT cell-3 before ITO deposition</text>
<line x1="394.2" y1="239.9" x2="412.2" y2="239.9" stroke="#008a8a" stroke-width="1.2"/>
<path d="M403.4,242.2l2.2,-3.6h-4.4z" fill="#008a8a"/>
<text x="414.8" y="243.1" font-size="9.05" text-anchor="start" font-family='"Liberation Serif", serif' font-weight="bold" >HIT cell-3 with ITO (150W)</text>
<text transform="translate(357.8,223.7) scale(0.95,1)" text-anchor="middle" font-size="21.5" font-family='"Liberation Sans", sans-serif' font-weight="bold">(d)</text>
<rect x="335.9" y="199.6" width="208.3" height="158" fill="none" stroke="#383838" stroke-width="1.4"/>
</g>
</svg>
</body></html>
